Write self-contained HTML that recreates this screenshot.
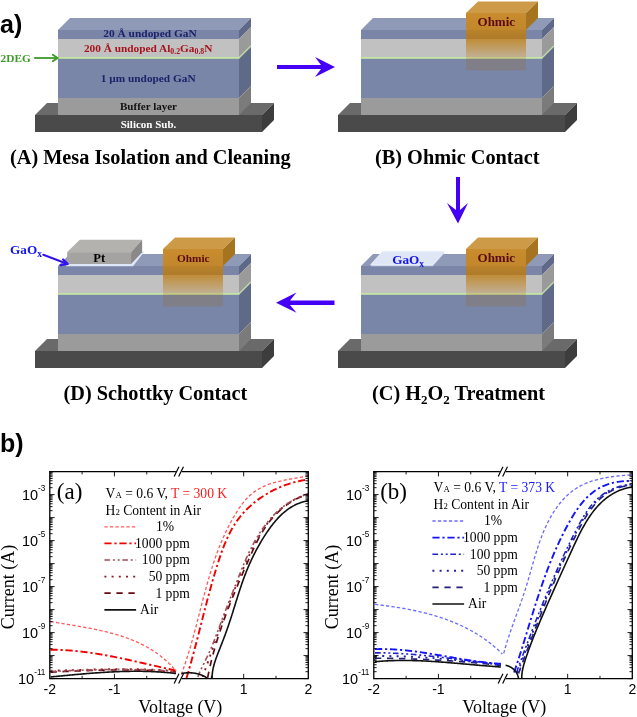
<!DOCTYPE html>
<html><head><meta charset="utf-8"><title>HEMT process and I-V</title>
<style>
html,body{margin:0;padding:0;background:#fff;}
body{width:637px;height:717px;overflow:hidden;position:relative;}
svg{position:absolute;left:0;top:0;}
</style></head><body>
<svg width="637" height="717" viewBox="0 0 637 717">
<rect width="637" height="717" fill="#fff"/>

<text x="0" y="33" font-family='"Liberation Sans", Arial, sans-serif' font-weight="bold" font-size="25" fill="#000">a)</text>
<polygon points="35,115 47,103 274,103 262,115" fill="#6a6a6a"/>
<polygon points="262,115 274,103 274,120 262,132" fill="#3d3d3d"/>
<rect x="35" y="115" width="227" height="17" fill="#4a4a4a"/>
<polygon points="58,30 70,18 251,18 239,30" fill="#8f9ab8"/>
<rect x="58" y="30" width="181" height="9" fill="#7a85a7"/>
<polygon points="239,30 251,18 251,27 239,39" fill="#5e6989"/>
<rect x="58" y="39" width="181" height="18.2" fill="#c1c1c1"/>
<polygon points="239,39 251,27 251,45.2 239,57.2" fill="#9a9a9a"/>
<rect x="58" y="57.2" width="181" height="1.6" fill="#b9e28f"/>
<polygon points="239,57.2 251,45.2 251,46.8 239,58.8" fill="#b9e28f"/>
<rect x="58" y="58.8" width="181" height="39.2" fill="#7a86a8"/>
<polygon points="239,58.8 251,46.8 251,86 239,98" fill="#5f6a89"/>
<rect x="58" y="98" width="181" height="17" fill="#9b9b9b"/>
<polygon points="239,98 251,86 251,103 239,115" fill="#7b7b7b"/>
<g font-family='"Liberation Serif", "Times New Roman", serif' font-weight="bold" font-size="11" text-anchor="middle">
<text x="150" y="37.1" fill="#1b236a" font-size="11.4">20 Å undoped GaN</text>
<text x="148.2" y="52" fill="#a8131d" font-size="11.3">200 Å undoped Al<tspan font-size="7.8" dy="2">0.2</tspan><tspan dy="-2">Ga</tspan><tspan font-size="7.8" dy="2">0.8</tspan><tspan dy="-2">N</tspan></text>
<text x="148.2" y="82.1" fill="#1b236a" font-size="11.3">1 µm undoped GaN</text>
<text x="148.5" y="110" fill="#111">Buffer layer</text>
<text x="148.5" y="127.6" fill="#fff">Silicon Sub.</text>
</g>
<text x="0.6" y="61.6" font-family='"Liberation Serif", "Times New Roman", serif' font-weight="bold" font-size="11.3" fill="#3d9a2a">2DEG</text>
<line x1="34.2" y1="58" x2="57" y2="58" stroke="#3d9a2a" stroke-width="1.8"/><polyline points="52.8,54.8 57.6,58 52.8,61.2" fill="none" stroke="#3d9a2a" stroke-width="1.8" stroke-linecap="round"/>
<polygon points="338,115 350,103 577,103 565,115" fill="#6a6a6a"/>
<polygon points="565,115 577,103 577,120 565,132" fill="#3d3d3d"/>
<rect x="338" y="115" width="227" height="17" fill="#4a4a4a"/>
<polygon points="361,30 373,18 554,18 542,30" fill="#8f9ab8"/>
<rect x="361" y="30" width="181" height="9" fill="#7a85a7"/>
<polygon points="542,30 554,18 554,27 542,39" fill="#5e6989"/>
<rect x="361" y="39" width="181" height="18.2" fill="#c1c1c1"/>
<polygon points="542,39 554,27 554,45.2 542,57.2" fill="#9a9a9a"/>
<rect x="361" y="57.2" width="181" height="1.6" fill="#b9e28f"/>
<polygon points="542,57.2 554,45.2 554,46.8 542,58.8" fill="#b9e28f"/>
<rect x="361" y="58.8" width="181" height="39.2" fill="#7a86a8"/>
<polygon points="542,58.8 554,46.8 554,86 542,98" fill="#5f6a89"/>
<rect x="361" y="98" width="181" height="17" fill="#9b9b9b"/>
<polygon points="542,98 554,86 554,103 542,115" fill="#7b7b7b"/>
<defs><linearGradient id="og0_0a" x1="0" y1="0" x2="0" y2="1">
<stop offset="0" stop-color="#c98c2e"/><stop offset="1" stop-color="#c2872c"/></linearGradient>
<linearGradient id="og0_0b" x1="0" y1="0" x2="0" y2="1">
<stop offset="0" stop-color="#b9822a"/><stop offset="1" stop-color="#ae7b2b"/></linearGradient>
<linearGradient id="og0_0c" x1="0" y1="0" x2="0" y2="1">
<stop offset="0" stop-color="#c08a32" stop-opacity="0.95"/><stop offset="1" stop-color="#c08a32" stop-opacity="0.32"/></linearGradient></defs>
<polygon points="466,13 478,1.5 538,1.5 526,13" fill="#cd9b47"/>
<polygon points="526,13 538,1.5 538,18 526,30" fill="#a6741f"/>
<rect x="466" y="13" width="60" height="17" fill="url(#og0_0a)"/>
<rect x="466" y="30" width="60" height="9" fill="url(#og0_0b)"/>
<rect x="466" y="39" width="60" height="18.2" fill="url(#og0_0c)"/>
<rect x="466" y="57.2" width="60" height="1.6" fill="#c08a32" fill-opacity="0.3"/>
<rect x="466" y="58.8" width="60" height="11.6" fill="#877860" fill-opacity="0.45"/>
<text x="496.3" y="26.4" font-family='"Liberation Serif", "Times New Roman", serif' font-weight="bold" font-size="13" fill="#5c0a12" text-anchor="middle">Ohmic</text>
<polygon points="338,351 350,339 577,339 565,351" fill="#6a6a6a"/>
<polygon points="565,351 577,339 577,356 565,368" fill="#3d3d3d"/>
<rect x="338" y="351" width="227" height="17" fill="#4a4a4a"/>
<polygon points="361,266 373,254 554,254 542,266" fill="#8f9ab8"/>
<rect x="361" y="266" width="181" height="9" fill="#7a85a7"/>
<polygon points="542,266 554,254 554,263 542,275" fill="#5e6989"/>
<rect x="361" y="275" width="181" height="18.2" fill="#c1c1c1"/>
<polygon points="542,275 554,263 554,281.2 542,293.2" fill="#9a9a9a"/>
<rect x="361" y="293.2" width="181" height="1.6" fill="#b9e28f"/>
<polygon points="542,293.2 554,281.2 554,282.8 542,294.8" fill="#b9e28f"/>
<rect x="361" y="294.8" width="181" height="39.2" fill="#7a86a8"/>
<polygon points="542,294.8 554,282.8 554,322 542,334" fill="#5f6a89"/>
<rect x="361" y="334" width="181" height="17" fill="#9b9b9b"/>
<polygon points="542,334 554,322 554,339 542,351" fill="#7b7b7b"/>
<defs><linearGradient id="og0_236a" x1="0" y1="0" x2="0" y2="1">
<stop offset="0" stop-color="#c98c2e"/><stop offset="1" stop-color="#c2872c"/></linearGradient>
<linearGradient id="og0_236b" x1="0" y1="0" x2="0" y2="1">
<stop offset="0" stop-color="#b9822a"/><stop offset="1" stop-color="#ae7b2b"/></linearGradient>
<linearGradient id="og0_236c" x1="0" y1="0" x2="0" y2="1">
<stop offset="0" stop-color="#c08a32" stop-opacity="0.95"/><stop offset="1" stop-color="#c08a32" stop-opacity="0.32"/></linearGradient></defs>
<polygon points="466,249 478,237.5 538,237.5 526,249" fill="#cd9b47"/>
<polygon points="526,249 538,237.5 538,254 526,266" fill="#a6741f"/>
<rect x="466" y="249" width="60" height="17" fill="url(#og0_236a)"/>
<rect x="466" y="266" width="60" height="9" fill="url(#og0_236b)"/>
<rect x="466" y="275" width="60" height="18.2" fill="url(#og0_236c)"/>
<rect x="466" y="293.2" width="60" height="1.6" fill="#c08a32" fill-opacity="0.3"/>
<rect x="466" y="294.8" width="60" height="11.6" fill="#877860" fill-opacity="0.45"/>
<text x="496.3" y="262.4" font-family='"Liberation Serif", "Times New Roman", serif' font-weight="bold" font-size="13" fill="#5c0a12" text-anchor="middle">Ohmic</text>
<polygon points="35,351 47,339 274,339 262,351" fill="#6a6a6a"/>
<polygon points="262,351 274,339 274,356 262,368" fill="#3d3d3d"/>
<rect x="35" y="351" width="227" height="17" fill="#4a4a4a"/>
<polygon points="58,266 70,254 251,254 239,266" fill="#8f9ab8"/>
<rect x="58" y="266" width="181" height="9" fill="#7a85a7"/>
<polygon points="239,266 251,254 251,263 239,275" fill="#5e6989"/>
<rect x="58" y="275" width="181" height="18.2" fill="#c1c1c1"/>
<polygon points="239,275 251,263 251,281.2 239,293.2" fill="#9a9a9a"/>
<rect x="58" y="293.2" width="181" height="1.6" fill="#b9e28f"/>
<polygon points="239,293.2 251,281.2 251,282.8 239,294.8" fill="#b9e28f"/>
<rect x="58" y="294.8" width="181" height="39.2" fill="#7a86a8"/>
<polygon points="239,294.8 251,282.8 251,322 239,334" fill="#5f6a89"/>
<rect x="58" y="334" width="181" height="17" fill="#9b9b9b"/>
<polygon points="239,334 251,322 251,339 239,351" fill="#7b7b7b"/>
<defs><linearGradient id="ogm303_236a" x1="0" y1="0" x2="0" y2="1">
<stop offset="0" stop-color="#c98c2e"/><stop offset="1" stop-color="#c2872c"/></linearGradient>
<linearGradient id="ogm303_236b" x1="0" y1="0" x2="0" y2="1">
<stop offset="0" stop-color="#b9822a"/><stop offset="1" stop-color="#ae7b2b"/></linearGradient>
<linearGradient id="ogm303_236c" x1="0" y1="0" x2="0" y2="1">
<stop offset="0" stop-color="#c08a32" stop-opacity="0.95"/><stop offset="1" stop-color="#c08a32" stop-opacity="0.32"/></linearGradient></defs>
<polygon points="163,249 175,237.5 235,237.5 223,249" fill="#cd9b47"/>
<polygon points="223,249 235,237.5 235,254 223,266" fill="#a6741f"/>
<rect x="163" y="249" width="60" height="17" fill="url(#ogm303_236a)"/>
<rect x="163" y="266" width="60" height="9" fill="url(#ogm303_236b)"/>
<rect x="163" y="275" width="60" height="18.2" fill="url(#ogm303_236c)"/>
<rect x="163" y="293.2" width="60" height="1.6" fill="#c08a32" fill-opacity="0.3"/>
<rect x="163" y="294.8" width="60" height="11.6" fill="#877860" fill-opacity="0.45"/>
<text x="193.3" y="262.4" font-family='"Liberation Serif", "Times New Roman", serif' font-weight="bold" font-size="11.3" fill="#5c0a12" text-anchor="middle">Ohmic</text>
<polygon points="370.6,266.3 382.6,252.8 444.7,252.8 432.7,266.3" fill="#c9d3e8"/>
<polygon points="370.6,264.8 382.6,251.3 444.7,251.3 432.7,264.8" fill="#dfe6f5" stroke="#eef2fb" stroke-width="0.8"/>
<text x="392.2" y="263.6" font-family='"Liberation Serif", "Times New Roman", serif' font-weight="bold" font-size="13.2" fill="#1414ee">GaO<tspan font-size="9.5" dy="3.3">x</tspan></text>
<polygon points="66,266.2 67,263.5 131.1,263.5 142.1,251.5 144.5,251.5 133,266.2" fill="#dde7f8"/>
<polygon points="67.2,252.1 79.8,239.8 142.1,239.8 131.1,252.1" fill="#b4b2af"/>
<polygon points="131.1,252.1 142.1,239.8 142.1,252.2 131.1,264" fill="#8b8987"/>
<rect x="67.2" y="252.1" width="63.9" height="11.9" fill="#a5a3a1"/>
<text x="99.2" y="262.3" font-family='"Liberation Serif", "Times New Roman", serif' font-weight="bold" font-size="12.6" fill="#000" text-anchor="middle">Pt</text>
<text x="10.1" y="254.1" font-family='"Liberation Serif", "Times New Roman", serif' font-weight="bold" font-size="13.2" fill="#1414ee">GaO<tspan font-size="9.5" dy="3.3">x</tspan></text>
<line x1="43.3" y1="254.7" x2="67" y2="263.8" stroke="#3311ee" stroke-width="2" stroke-linecap="round"/>
<polyline points="63.1,259.5 67.7,264 60.5,265.1" fill="none" stroke="#3311ee" stroke-width="2.2" stroke-linecap="round" stroke-linejoin="round"/>
<text x="10" y="163.5" font-family='"Liberation Serif", "Times New Roman", serif' font-weight="bold" font-size="20.3" fill="#000">(A) Mesa Isolation and Cleaning</text>
<text x="375" y="163.5" font-family='"Liberation Serif", "Times New Roman", serif' font-weight="bold" font-size="20.3" fill="#000">(B) Ohmic Contact</text>
<text x="63.5" y="400" font-family='"Liberation Serif", "Times New Roman", serif' font-weight="bold" font-size="20.3" fill="#000">(D) Schottky Contact</text>
<text x="372" y="400" font-family='"Liberation Serif", "Times New Roman", serif' font-weight="bold" font-size="20.3" fill="#000">(C) H<tspan font-size="13" dy="4">2</tspan><tspan dy="-4">O</tspan><tspan font-size="13" dy="4">2</tspan><tspan dy="-4"> Treatment</tspan></text>
<polygon points="277,65 321,65 315,57 335,67 315,77 321,69 277,69" fill="#4400f5"/>
<polygon points="456,177 460,177 460,210 468,203 458,223.5 447,203 456,210" fill="#4400f5"/>
<polygon points="334.5,300.5 290,300.5 296.5,292.5 276,302.7 296.5,312.7 290,305 334.5,305" fill="#4400f5"/>
<text x="0" y="452" font-family='"Liberation Sans", Arial, sans-serif' font-weight="bold" font-size="25" fill="#000">b)</text>
<path d="M50.52,676.94 L51.57,676.84 L52.62,676.74 L53.67,676.64 L54.72,676.54 L55.77,676.44 L56.82,676.34 L57.87,676.24 L58.92,676.14 L59.98,676.04 L61.03,675.94 L62.08,675.84 L63.13,675.74 L64.18,675.64 L65.23,675.54 L66.28,675.44 L67.34,675.34 L68.39,675.25 L69.44,675.15 L70.49,675.05 L71.54,674.95 L72.60,674.85 L73.65,674.76 L74.70,674.66 L75.76,674.57 L76.81,674.47 L77.86,674.38 L78.92,674.29 L79.97,674.19 L81.02,674.10 L82.08,674.01 L83.13,673.92 L84.18,673.83 L85.24,673.74 L86.29,673.65 L87.35,673.57 L88.40,673.48 L89.46,673.40 L90.51,673.31 L91.56,673.23 L92.62,673.15 L93.67,673.07 L94.73,672.99 L95.78,672.92 L96.84,672.84 L97.89,672.76 L98.95,672.69 L100.00,672.62 L101.06,672.55 L102.11,672.48 L103.17,672.41 L104.23,672.35 L105.28,672.28 L106.34,672.22 L107.39,672.16 L108.45,672.10 L109.50,672.04 L110.56,671.99 L111.62,671.93 L112.67,671.88 L113.73,671.83 L114.78,671.78 L115.84,671.74 L116.90,671.69 L117.95,671.65 L119.01,671.61 L120.06,671.57 L121.12,671.53 L122.18,671.50 L123.23,671.47 L124.29,671.44 L125.34,671.41 L126.40,671.39 L127.46,671.37 L128.51,671.35 L129.57,671.33 L130.63,671.31 L131.68,671.30 L132.74,671.29 L133.79,671.28 L134.85,671.28 L135.91,671.28 L136.96,671.28 L138.02,671.28 L139.08,671.29 L140.13,671.29 L141.19,671.31 L142.24,671.32 L143.30,671.34 L144.36,671.36 L145.41,671.38 L146.47,671.41 L147.52,671.44 L148.58,671.47 L149.64,671.50 L150.69,671.54 L151.75,671.58 L152.80,671.63 L153.86,671.68 L154.91,671.73 L155.97,671.78 L157.02,671.84 L158.08,671.90 L159.14,671.97 L160.19,672.04 L161.25,672.11 L162.30,672.19 L163.36,672.27 L164.41,672.35 L165.47,672.44 L166.52,672.53 L167.58,672.62 L168.63,672.72 L169.69,672.82 L170.74,672.92 L171.79,673.03 L172.85,673.15 L173.90,673.26 L174.96,673.39 L176.01,673.51" fill="none" stroke="#111" stroke-width="1.6" stroke-linejoin="round"/>
<path d="M50.50,672.16 L51.56,672.11 L52.61,672.06 L53.66,672.01 L54.72,671.96 L55.77,671.91 L56.82,671.86 L57.88,671.81 L58.93,671.76 L59.98,671.71 L61.04,671.67 L62.09,671.62 L63.14,671.57 L64.20,671.52 L65.25,671.47 L66.31,671.43 L67.36,671.38 L68.41,671.33 L69.47,671.29 L70.52,671.24 L71.58,671.20 L72.63,671.15 L73.69,671.11 L74.74,671.06 L75.80,671.02 L76.85,670.98 L77.91,670.93 L78.96,670.89 L80.02,670.85 L81.07,670.81 L82.13,670.77 L83.18,670.73 L84.24,670.69 L85.29,670.65 L86.35,670.62 L87.40,670.58 L88.46,670.54 L89.51,670.51 L90.57,670.47 L91.62,670.44 L92.68,670.41 L93.74,670.38 L94.79,670.35 L95.85,670.31 L96.90,670.29 L97.96,670.26 L99.01,670.23 L100.07,670.20 L101.13,670.18 L102.18,670.15 L103.24,670.13 L104.29,670.11 L105.35,670.08 L106.40,670.06 L107.46,670.04 L108.52,670.02 L109.57,670.01 L110.63,669.99 L111.68,669.98 L112.74,669.96 L113.79,669.95 L114.85,669.94 L115.91,669.93 L116.96,669.92 L118.02,669.91 L119.07,669.90 L120.13,669.90 L121.18,669.89 L122.24,669.89 L123.30,669.89 L124.35,669.89 L125.41,669.89 L126.46,669.89 L127.52,669.90 L128.57,669.90 L129.63,669.91 L130.68,669.92 L131.74,669.93 L132.79,669.94 L133.85,669.95 L134.91,669.96 L135.96,669.98 L137.02,670.00 L138.07,670.02 L139.13,670.04 L140.18,670.06 L141.24,670.08 L142.29,670.11 L143.35,670.14 L144.40,670.17 L145.46,670.20 L146.51,670.23 L147.56,670.26 L148.62,670.30 L149.67,670.34 L150.73,670.38 L151.78,670.42 L152.84,670.46 L153.89,670.51 L154.94,670.55 L156.00,670.60 L157.05,670.65 L158.11,670.71 L159.16,670.76 L160.21,670.82 L161.27,670.88 L162.32,670.94 L163.37,671.00 L164.43,671.06 L165.48,671.13 L166.53,671.20 L167.59,671.27 L168.64,671.34 L169.69,671.42 L170.74,671.50 L171.80,671.58 L172.85,671.66 L173.90,671.74 L174.95,671.83 L176.01,671.92" fill="none" stroke="#650a12" stroke-width="1.7" stroke-dasharray="6.3,5.7" stroke-linejoin="round"/>
<path d="M50.50,670.80 L51.56,670.76 L52.61,670.73 L53.66,670.70 L54.72,670.67 L55.77,670.64 L56.83,670.60 L57.88,670.57 L58.93,670.54 L59.99,670.51 L61.04,670.48 L62.10,670.44 L63.15,670.41 L64.21,670.38 L65.26,670.35 L66.32,670.31 L67.37,670.28 L68.42,670.25 L69.48,670.22 L70.53,670.19 L71.59,670.15 L72.64,670.12 L73.70,670.09 L74.75,670.06 L75.81,670.03 L76.86,670.00 L77.92,669.97 L78.97,669.94 L80.03,669.91 L81.08,669.88 L82.14,669.85 L83.19,669.82 L84.25,669.80 L85.30,669.77 L86.36,669.74 L87.41,669.71 L88.47,669.69 L89.52,669.66 L90.58,669.64 L91.63,669.61 L92.69,669.59 L93.74,669.56 L94.80,669.54 L95.85,669.52 L96.91,669.50 L97.96,669.48 L99.02,669.45 L100.08,669.43 L101.13,669.41 L102.19,669.40 L103.24,669.38 L104.30,669.36 L105.35,669.34 L106.41,669.33 L107.46,669.31 L108.52,669.30 L109.57,669.29 L110.63,669.28 L111.68,669.26 L112.74,669.25 L113.79,669.24 L114.85,669.23 L115.90,669.23 L116.96,669.22 L118.01,669.21 L119.07,669.21 L120.12,669.21 L121.18,669.20 L122.24,669.20 L123.29,669.20 L124.35,669.20 L125.40,669.20 L126.46,669.21 L127.51,669.21 L128.57,669.22 L129.62,669.22 L130.68,669.23 L131.73,669.24 L132.79,669.25 L133.84,669.26 L134.90,669.27 L135.95,669.29 L137.00,669.30 L138.06,669.32 L139.11,669.34 L140.17,669.35 L141.22,669.38 L142.28,669.40 L143.33,669.42 L144.39,669.45 L145.44,669.47 L146.50,669.50 L147.55,669.53 L148.61,669.56 L149.66,669.59 L150.71,669.63 L151.77,669.66 L152.82,669.70 L153.88,669.74 L154.93,669.78 L155.99,669.82 L157.04,669.87 L158.09,669.91 L159.15,669.96 L160.20,670.01 L161.26,670.06 L162.31,670.11 L163.36,670.17 L164.42,670.22 L165.47,670.28 L166.52,670.34 L167.58,670.40 L168.63,670.46 L169.68,670.53 L170.74,670.60 L171.79,670.67 L172.84,670.74 L173.90,670.81 L174.95,670.89 L176.00,670.96" fill="none" stroke="#8b1a22" stroke-width="1.9" stroke-dasharray="2,5.2" stroke-linejoin="round"/>
<path d="M50.50,671.38 L51.56,671.34 L52.61,671.30 L53.66,671.25 L54.72,671.21 L55.77,671.17 L56.82,671.13 L57.88,671.09 L58.93,671.05 L59.99,671.01 L61.04,670.96 L62.09,670.92 L63.15,670.88 L64.20,670.84 L65.26,670.80 L66.31,670.76 L67.37,670.72 L68.42,670.68 L69.47,670.64 L70.53,670.60 L71.58,670.56 L72.64,670.52 L73.69,670.48 L74.75,670.44 L75.80,670.40 L76.86,670.37 L77.91,670.33 L78.97,670.29 L80.02,670.25 L81.08,670.22 L82.13,670.18 L83.19,670.15 L84.24,670.11 L85.30,670.08 L86.35,670.05 L87.41,670.01 L88.47,669.98 L89.52,669.95 L90.58,669.92 L91.63,669.89 L92.69,669.86 L93.74,669.83 L94.80,669.80 L95.85,669.77 L96.91,669.74 L97.97,669.72 L99.02,669.69 L100.08,669.67 L101.13,669.64 L102.19,669.62 L103.24,669.60 L104.30,669.58 L105.35,669.56 L106.41,669.54 L107.47,669.52 L108.52,669.51 L109.58,669.49 L110.63,669.47 L111.69,669.46 L112.74,669.45 L113.80,669.44 L114.86,669.42 L115.91,669.41 L116.97,669.41 L118.02,669.40 L119.08,669.39 L120.13,669.39 L121.19,669.38 L122.24,669.38 L123.30,669.38 L124.36,669.38 L125.41,669.38 L126.47,669.39 L127.52,669.39 L128.58,669.40 L129.63,669.40 L130.69,669.41 L131.74,669.42 L132.80,669.43 L133.85,669.45 L134.91,669.46 L135.96,669.48 L137.02,669.49 L138.07,669.51 L139.13,669.53 L140.18,669.56 L141.24,669.58 L142.29,669.61 L143.35,669.63 L144.40,669.66 L145.46,669.69 L146.51,669.73 L147.57,669.76 L148.62,669.80 L149.67,669.83 L150.73,669.87 L151.78,669.91 L152.84,669.96 L153.89,670.00 L154.95,670.05 L156.00,670.10 L157.05,670.15 L158.11,670.20 L159.16,670.26 L160.21,670.31 L161.27,670.37 L162.32,670.43 L163.37,670.50 L164.43,670.56 L165.48,670.63 L166.53,670.70 L167.59,670.77 L168.64,670.84 L169.69,670.92 L170.74,671.00 L171.80,671.08 L172.85,671.16 L173.90,671.24 L174.95,671.33 L176.01,671.42" fill="none" stroke="#a0505a" stroke-width="1.6" stroke-dasharray="5.7,2.8,2,2.8,2,2.6" stroke-linejoin="round"/>
<path d="M50.52,649.75 L51.59,649.75 L52.67,649.75 L53.74,649.76 L54.81,649.78 L55.88,649.80 L56.95,649.82 L58.02,649.85 L59.09,649.89 L60.16,649.93 L61.23,649.97 L62.29,650.02 L63.36,650.07 L64.43,650.13 L65.50,650.19 L66.56,650.26 L67.63,650.33 L68.70,650.40 L69.76,650.48 L70.83,650.56 L71.89,650.65 L72.96,650.74 L74.02,650.84 L75.09,650.94 L76.15,651.04 L77.21,651.15 L78.28,651.26 L79.34,651.37 L80.40,651.49 L81.47,651.61 L82.53,651.74 L83.59,651.87 L84.65,652.00 L85.71,652.14 L86.77,652.28 L87.83,652.42 L88.89,652.56 L89.95,652.71 L91.01,652.87 L92.07,653.02 L93.13,653.18 L94.19,653.34 L95.25,653.51 L96.30,653.67 L97.36,653.84 L98.42,654.02 L99.48,654.19 L100.53,654.37 L101.59,654.55 L102.65,654.73 L103.70,654.92 L104.76,655.11 L105.81,655.30 L106.87,655.49 L107.92,655.69 L108.98,655.88 L110.03,656.08 L111.09,656.28 L112.14,656.49 L113.19,656.69 L114.25,656.90 L115.30,657.11 L116.35,657.32 L117.40,657.53 L118.46,657.75 L119.51,657.96 L120.56,658.18 L121.61,658.40 L122.66,658.62 L123.71,658.85 L124.77,659.07 L125.82,659.30 L126.87,659.52 L127.92,659.75 L128.97,659.98 L130.02,660.21 L131.07,660.44 L132.11,660.67 L133.16,660.90 L134.21,661.14 L135.26,661.37 L136.31,661.61 L137.36,661.85 L138.41,662.08 L139.45,662.32 L140.50,662.56 L141.55,662.80 L142.60,663.04 L143.64,663.28 L144.69,663.52 L145.74,663.76 L146.78,664.00 L147.83,664.24 L148.87,664.48 L149.92,664.72 L150.97,664.96 L152.01,665.20 L153.06,665.44 L154.10,665.68 L155.15,665.92 L156.19,666.16 L157.24,666.40 L158.28,666.64 L159.32,666.88 L160.37,667.12 L161.41,667.36 L162.46,667.59 L163.50,667.83 L164.54,668.07 L165.59,668.30 L166.63,668.54 L167.67,668.77 L168.72,669.00 L169.76,669.24 L170.80,669.47 L171.84,669.70 L172.89,669.93 L173.93,670.15 L174.97,670.38 L176.01,670.60" fill="none" stroke="#f00000" stroke-width="1.9" stroke-dasharray="7.2,2.8,2.2,2.8" stroke-linejoin="round"/>
<path d="M50.59,621.55 L51.71,621.75 L52.82,621.94 L53.94,622.13 L55.06,622.32 L56.18,622.51 L57.30,622.69 L58.43,622.88 L59.56,623.07 L60.69,623.25 L61.82,623.44 L62.95,623.63 L64.09,623.81 L65.22,624.00 L66.36,624.18 L67.50,624.37 L68.64,624.56 L69.79,624.75 L70.93,624.93 L72.08,625.12 L73.22,625.31 L74.37,625.51 L75.52,625.70 L76.66,625.89 L77.81,626.09 L78.96,626.29 L80.11,626.49 L81.26,626.69 L82.41,626.89 L83.56,627.10 L84.71,627.30 L85.86,627.51 L87.01,627.73 L88.16,627.94 L89.31,628.16 L90.46,628.38 L91.61,628.61 L92.76,628.84 L93.91,629.07 L95.06,629.30 L96.20,629.54 L97.35,629.78 L98.49,630.03 L99.63,630.28 L100.77,630.54 L101.91,630.79 L103.05,631.06 L104.19,631.33 L105.33,631.60 L106.46,631.88 L107.59,632.16 L108.72,632.45 L109.85,632.74 L110.98,633.04 L112.10,633.34 L113.22,633.65 L114.34,633.96 L115.46,634.28 L116.57,634.61 L117.69,634.94 L118.80,635.28 L119.90,635.63 L121.01,635.98 L122.11,636.34 L123.20,636.71 L124.30,637.08 L125.39,637.46 L126.48,637.85 L127.56,638.24 L128.64,638.64 L129.72,639.05 L130.79,639.47 L131.86,639.89 L132.93,640.32 L133.99,640.77 L135.04,641.21 L136.10,641.67 L137.15,642.14 L138.19,642.61 L139.23,643.10 L140.27,643.59 L141.30,644.09 L142.32,644.60 L143.34,645.12 L144.36,645.65 L145.37,646.19 L146.38,646.74 L147.38,647.29 L148.37,647.86 L149.36,648.44 L150.35,649.03 L151.33,649.63 L152.30,650.24 L153.27,650.86 L154.23,651.49 L155.18,652.13 L156.13,652.78 L157.08,653.44 L158.01,654.12 L158.95,654.81 L159.87,655.50 L160.79,656.21 L161.70,656.93 L162.60,657.67 L163.50,658.41 L164.39,659.17 L165.28,659.94 L166.15,660.72 L167.02,661.51 L167.89,662.32 L168.74,663.14 L169.59,663.97 L170.43,664.82 L171.26,665.68 L172.09,666.55 L172.90,667.44 L173.71,668.34 L174.52,669.25 L175.31,670.18 L176.09,671.12" fill="none" stroke="#ff5a5a" stroke-width="1.3" stroke-dasharray="3.3,2.2" stroke-linejoin="round"/>
<path d="M212.09,678.55 L212.10,676.79 L212.18,675.04 L212.34,673.30 L212.56,671.58 L212.84,669.86 L213.19,668.16 L213.58,666.47 L214.02,664.78 L214.50,663.10 L215.02,661.43 L215.58,659.76 L216.16,658.10 L216.77,656.44 L217.39,654.79 L218.03,653.14 L218.68,651.49 L219.33,649.84 L219.99,648.19 L220.64,646.54 L221.28,644.89 L221.92,643.24 L222.56,641.58 L223.19,639.93 L223.82,638.27 L224.44,636.61 L225.06,634.95 L225.67,633.29 L226.27,631.63 L226.87,629.96 L227.46,628.29 L228.04,626.62 L228.62,624.95 L229.19,623.28 L229.75,621.60 L230.30,619.92 L230.85,618.24 L231.40,616.55 L231.93,614.87 L232.47,613.18 L233.00,611.49 L233.53,609.80 L234.05,608.11 L234.58,606.42 L235.10,604.73 L235.62,603.04 L236.15,601.35 L236.67,599.67 L237.20,597.98 L237.73,596.29 L238.26,594.61 L238.80,592.92 L239.34,591.24 L239.89,589.56 L240.44,587.89 L241.00,586.21 L241.57,584.54 L242.14,582.87 L242.73,581.21 L243.32,579.55 L243.93,577.89 L244.54,576.24 L245.17,574.59 L245.81,572.95 L246.46,571.31 L247.12,569.67 L247.80,568.04 L248.48,566.42 L249.18,564.80 L249.90,563.19 L250.62,561.58 L251.36,559.98 L252.12,558.38 L252.88,556.79 L253.66,555.20 L254.46,553.62 L255.26,552.05 L256.08,550.48 L256.92,548.92 L257.76,547.37 L258.63,545.82 L259.50,544.28 L260.39,542.74 L261.30,541.21 L262.21,539.69 L263.15,538.17 L264.10,536.66 L265.06,535.16 L266.04,533.67 L267.03,532.18 L268.04,530.70 L269.07,529.24 L270.11,527.78 L271.17,526.35 L272.25,524.93 L273.35,523.53 L274.48,522.15 L275.62,520.79 L276.79,519.46 L277.98,518.15 L279.20,516.88 L280.44,515.63 L281.70,514.42 L283.00,513.25 L284.32,512.11 L285.67,511.01 L287.05,509.95 L288.47,508.93 L289.91,507.96 L291.39,507.04 L292.89,506.16 L294.44,505.34 L296.01,504.57 L297.63,503.85 L299.28,503.19 L300.97,502.59 L302.69,502.05 L304.46,501.57 L306.26,501.16 L308.11,500.82" fill="none" stroke="#111" stroke-width="1.6" stroke-linejoin="round"/>
<path d="M207.61,677.90 L207.96,676.11 L208.32,674.33 L208.69,672.54 L209.07,670.76 L209.46,668.98 L209.86,667.21 L210.27,665.43 L210.68,663.66 L211.11,661.89 L211.55,660.13 L212.00,658.36 L212.45,656.60 L212.92,654.84 L213.39,653.09 L213.88,651.33 L214.37,649.58 L214.87,647.83 L215.37,646.08 L215.89,644.34 L216.41,642.59 L216.94,640.85 L217.48,639.12 L218.03,637.38 L218.58,635.64 L219.14,633.91 L219.71,632.18 L220.28,630.45 L220.87,628.73 L221.45,627.00 L222.05,625.28 L222.65,623.56 L223.26,621.84 L223.87,620.13 L224.49,618.41 L225.12,616.70 L225.75,614.99 L226.38,613.28 L227.02,611.57 L227.67,609.86 L228.32,608.16 L228.98,606.46 L229.64,604.76 L230.31,603.06 L230.98,601.36 L231.65,599.66 L232.33,597.97 L233.02,596.27 L233.71,594.58 L234.40,592.89 L235.09,591.20 L235.79,589.51 L236.49,587.83 L237.20,586.14 L237.91,584.46 L238.62,582.78 L239.33,581.10 L240.05,579.42 L240.77,577.74 L241.49,576.06 L242.22,574.38 L242.94,572.71 L243.67,571.03 L244.40,569.36 L245.14,567.69 L245.87,566.02 L246.61,564.35 L247.34,562.68 L248.08,561.01 L248.82,559.34 L249.56,557.67 L250.30,556.01 L251.04,554.34 L251.78,552.68 L252.53,551.02 L253.29,549.36 L254.05,547.71 L254.82,546.07 L255.61,544.43 L256.41,542.79 L257.22,541.17 L258.05,539.56 L258.90,537.95 L259.77,536.36 L260.66,534.77 L261.58,533.21 L262.51,531.65 L263.47,530.11 L264.46,528.58 L265.47,527.07 L266.50,525.58 L267.56,524.11 L268.65,522.65 L269.76,521.22 L270.90,519.81 L272.07,518.41 L273.27,517.05 L274.49,515.70 L275.75,514.38 L277.03,513.08 L278.34,511.82 L279.68,510.58 L281.04,509.37 L282.43,508.19 L283.85,507.03 L285.30,505.92 L286.77,504.83 L288.26,503.78 L289.78,502.76 L291.33,501.78 L292.90,500.84 L294.49,499.94 L296.11,499.07 L297.76,498.25 L299.42,497.46 L301.11,496.72 L302.82,496.02 L304.56,495.37 L306.32,494.76 L308.10,494.19" fill="none" stroke="#650a12" stroke-width="1.7" stroke-dasharray="6.3,5.7" stroke-linejoin="round"/>
<path d="M202.61,676.88 L203.23,675.15 L203.85,673.42 L204.47,671.70 L205.09,669.97 L205.70,668.25 L206.32,666.52 L206.93,664.79 L207.55,663.07 L208.16,661.34 L208.77,659.61 L209.39,657.88 L210.00,656.16 L210.61,654.43 L211.22,652.70 L211.83,650.98 L212.44,649.25 L213.05,647.53 L213.67,645.80 L214.28,644.08 L214.89,642.35 L215.50,640.63 L216.12,638.90 L216.73,637.18 L217.34,635.45 L217.96,633.73 L218.58,632.01 L219.20,630.29 L219.81,628.56 L220.44,626.84 L221.06,625.12 L221.68,623.40 L222.31,621.68 L222.93,619.97 L223.56,618.25 L224.20,616.53 L224.83,614.82 L225.46,613.10 L226.10,611.39 L226.74,609.67 L227.39,607.96 L228.03,606.25 L228.68,604.54 L229.33,602.83 L229.99,601.12 L230.64,599.41 L231.30,597.71 L231.97,596.00 L232.64,594.30 L233.31,592.60 L233.98,590.89 L234.66,589.19 L235.34,587.49 L236.03,585.80 L236.72,584.10 L237.41,582.41 L238.11,580.71 L238.81,579.02 L239.52,577.33 L240.23,575.64 L240.95,573.95 L241.67,572.27 L242.40,570.58 L243.13,568.90 L243.87,567.22 L244.61,565.54 L245.35,563.86 L246.11,562.19 L246.86,560.51 L247.63,558.84 L248.40,557.17 L249.17,555.50 L249.95,553.84 L250.74,552.17 L251.54,550.51 L252.35,548.86 L253.16,547.21 L253.99,545.57 L254.82,543.93 L255.67,542.31 L256.54,540.69 L257.42,539.08 L258.31,537.48 L259.22,535.89 L260.14,534.32 L261.09,532.76 L262.05,531.21 L263.03,529.68 L264.03,528.16 L265.06,526.66 L266.10,525.18 L267.17,523.72 L268.27,522.27 L269.39,520.85 L270.53,519.45 L271.70,518.06 L272.90,516.70 L274.13,515.37 L275.38,514.06 L276.67,512.77 L277.98,511.51 L279.31,510.28 L280.68,509.08 L282.07,507.91 L283.50,506.77 L284.95,505.66 L286.42,504.58 L287.93,503.54 L289.47,502.53 L291.03,501.56 L292.62,500.63 L294.24,499.73 L295.89,498.88 L297.57,498.07 L299.27,497.29 L301.01,496.56 L302.77,495.87 L304.56,495.23 L306.38,494.64 L308.23,494.09" fill="none" stroke="#8b1a22" stroke-width="1.9" stroke-dasharray="2,5.2" stroke-linejoin="round"/>
<path d="M197.87,676.95 L198.51,675.21 L199.20,673.48 L199.93,671.77 L200.68,670.08 L201.46,668.39 L202.26,666.72 L203.07,665.05 L203.89,663.39 L204.72,661.73 L205.55,660.07 L206.37,658.41 L207.18,656.75 L207.98,655.08 L208.76,653.40 L209.52,651.72 L210.27,650.03 L211.01,648.34 L211.73,646.64 L212.44,644.93 L213.14,643.23 L213.83,641.51 L214.51,639.80 L215.18,638.08 L215.84,636.35 L216.50,634.63 L217.16,632.90 L217.80,631.17 L218.45,629.44 L219.09,627.70 L219.73,625.97 L220.38,624.23 L221.02,622.49 L221.66,620.76 L222.30,619.02 L222.95,617.28 L223.61,615.55 L224.26,613.81 L224.92,612.07 L225.59,610.34 L226.25,608.61 L226.92,606.87 L227.59,605.14 L228.27,603.41 L228.94,601.68 L229.62,599.95 L230.30,598.22 L230.98,596.50 L231.66,594.77 L232.34,593.05 L233.02,591.32 L233.70,589.60 L234.38,587.88 L235.06,586.16 L235.73,584.44 L236.41,582.73 L237.08,581.01 L237.75,579.30 L238.42,577.59 L239.09,575.87 L239.77,574.17 L240.44,572.46 L241.12,570.75 L241.80,569.05 L242.49,567.35 L243.19,565.65 L243.89,563.95 L244.60,562.26 L245.33,560.56 L246.07,558.87 L246.82,557.18 L247.58,555.50 L248.36,553.81 L249.15,552.13 L249.97,550.45 L250.79,548.78 L251.64,547.12 L252.50,545.46 L253.38,543.81 L254.27,542.17 L255.18,540.53 L256.12,538.91 L257.07,537.30 L258.04,535.70 L259.02,534.12 L260.03,532.54 L261.06,530.99 L262.11,529.45 L263.17,527.92 L264.26,526.42 L265.37,524.93 L266.50,523.46 L267.66,522.01 L268.83,520.59 L270.03,519.18 L271.25,517.80 L272.49,516.44 L273.76,515.11 L275.05,513.80 L276.36,512.52 L277.70,511.27 L279.06,510.04 L280.45,508.85 L281.86,507.68 L283.30,506.55 L284.76,505.44 L286.25,504.38 L287.76,503.34 L289.31,502.34 L290.87,501.37 L292.47,500.44 L294.10,499.55 L295.75,498.70 L297.43,497.89 L299.14,497.11 L300.88,496.38 L302.64,495.69 L304.44,495.04 L306.27,494.43 L308.12,493.87" fill="none" stroke="#a0505a" stroke-width="1.6" stroke-dasharray="5.7,2.8,2,2.8,2,2.6" stroke-linejoin="round"/>
<path d="M186.53,677.97 L187.14,675.95 L187.74,673.93 L188.33,671.91 L188.92,669.89 L189.50,667.87 L190.07,665.84 L190.64,663.82 L191.21,661.79 L191.77,659.76 L192.32,657.74 L192.88,655.71 L193.42,653.68 L193.97,651.65 L194.51,649.62 L195.04,647.59 L195.57,645.56 L196.11,643.53 L196.63,641.50 L197.16,639.47 L197.68,637.44 L198.21,635.41 L198.73,633.37 L199.25,631.34 L199.77,629.31 L200.28,627.28 L200.80,625.24 L201.32,623.21 L201.84,621.18 L202.36,619.14 L202.88,617.11 L203.40,615.08 L203.92,613.05 L204.44,611.01 L204.97,608.98 L205.49,606.95 L206.02,604.92 L206.56,602.89 L207.09,600.85 L207.63,598.82 L208.17,596.79 L208.72,594.76 L209.27,592.73 L209.82,590.71 L210.38,588.68 L210.94,586.65 L211.51,584.62 L212.08,582.59 L212.66,580.57 L213.25,578.54 L213.84,576.52 L214.44,574.50 L215.04,572.47 L215.65,570.45 L216.27,568.43 L216.90,566.41 L217.53,564.39 L218.17,562.37 L218.82,560.36 L219.49,558.34 L220.16,556.33 L220.85,554.33 L221.55,552.34 L222.27,550.35 L223.01,548.37 L223.76,546.40 L224.54,544.44 L225.34,542.49 L226.17,540.56 L227.02,538.65 L227.89,536.75 L228.80,534.86 L229.74,533.00 L230.70,531.16 L231.70,529.33 L232.74,527.53 L233.80,525.75 L234.91,524.00 L236.06,522.27 L237.24,520.57 L238.47,518.90 L239.74,517.25 L241.05,515.64 L242.39,514.05 L243.78,512.49 L245.20,510.97 L246.65,509.47 L248.14,508.00 L249.67,506.57 L251.23,505.17 L252.81,503.79 L254.43,502.46 L256.08,501.15 L257.76,499.88 L259.46,498.64 L261.19,497.43 L262.95,496.26 L264.73,495.12 L266.53,494.01 L268.36,492.95 L270.21,491.91 L272.08,490.92 L273.96,489.96 L275.87,489.03 L277.79,488.15 L279.73,487.30 L281.68,486.49 L283.64,485.71 L285.62,484.98 L287.62,484.28 L289.62,483.63 L291.63,483.01 L293.65,482.43 L295.68,481.90 L297.72,481.40 L299.76,480.95 L301.80,480.53 L303.85,480.16 L305.90,479.83 L307.96,479.55" fill="none" stroke="#f00000" stroke-width="1.9" stroke-dasharray="7.2,2.8,2.2,2.8" stroke-linejoin="round"/>
<path d="M181.24,674.56 L181.98,672.58 L182.71,670.59 L183.43,668.60 L184.13,666.60 L184.82,664.60 L185.50,662.58 L186.17,660.56 L186.83,658.54 L187.47,656.51 L188.11,654.47 L188.74,652.43 L189.35,650.38 L189.96,648.33 L190.57,646.28 L191.16,644.22 L191.75,642.15 L192.33,640.08 L192.90,638.01 L193.47,635.94 L194.03,633.86 L194.59,631.78 L195.15,629.69 L195.70,627.60 L196.25,625.51 L196.79,623.42 L197.33,621.33 L197.88,619.24 L198.41,617.14 L198.95,615.04 L199.49,612.95 L200.03,610.85 L200.57,608.75 L201.11,606.65 L201.65,604.55 L202.19,602.45 L202.74,600.36 L203.29,598.26 L203.84,596.17 L204.40,594.07 L204.96,591.98 L205.53,589.89 L206.10,587.80 L206.67,585.71 L207.26,583.63 L207.85,581.55 L208.45,579.47 L209.05,577.40 L209.66,575.33 L210.29,573.26 L210.92,571.20 L211.56,569.14 L212.21,567.08 L212.87,565.03 L213.55,562.99 L214.23,560.95 L214.93,558.91 L215.64,556.88 L216.36,554.86 L217.10,552.84 L217.85,550.83 L218.61,548.83 L219.39,546.83 L220.18,544.84 L220.99,542.86 L221.82,540.89 L222.67,538.92 L223.53,536.96 L224.41,535.01 L225.30,533.07 L226.22,531.13 L227.15,529.21 L228.11,527.29 L229.09,525.39 L230.08,523.49 L231.10,521.61 L232.14,519.73 L233.20,517.86 L234.28,516.01 L235.39,514.17 L236.52,512.33 L237.67,510.51 L238.86,508.71 L240.07,506.93 L241.32,505.17 L242.60,503.45 L243.92,501.77 L245.29,500.14 L246.71,498.56 L248.18,497.03 L249.70,495.57 L251.28,494.18 L252.92,492.86 L254.62,491.61 L256.37,490.43 L258.17,489.32 L260.02,488.28 L261.92,487.30 L263.85,486.38 L265.82,485.52 L267.83,484.72 L269.87,483.98 L271.94,483.29 L274.03,482.66 L276.14,482.06 L278.27,481.52 L280.41,481.01 L282.56,480.53 L284.72,480.08 L286.89,479.66 L289.05,479.26 L291.20,478.88 L293.35,478.51 L295.49,478.15 L297.61,477.80 L299.72,477.44 L301.80,477.09 L303.86,476.72 L305.88,476.35 L307.88,475.95" fill="none" stroke="#ff5a5a" stroke-width="1.3" stroke-dasharray="3.3,2.2" stroke-linejoin="round"/>
<path d="M181.50,673.50 L181.72,673.46 L181.93,673.42 L182.15,673.38 L182.37,673.35 L182.59,673.31 L182.81,673.28 L183.03,673.24 L183.25,673.21 L183.47,673.18 L183.69,673.15 L183.91,673.12 L184.13,673.09 L184.35,673.07 L184.57,673.04 L184.79,673.02 L185.02,672.99 L185.24,672.97 L185.46,672.95 L185.68,672.93 L185.91,672.91 L186.13,672.90 L186.35,672.88 L186.57,672.87 L186.80,672.85 L187.02,672.84 L187.24,672.83 L187.47,672.82 L187.69,672.81 L187.92,672.80 L188.14,672.80 L188.36,672.79 L188.59,672.79 L188.81,672.79 L189.04,672.79 L189.26,672.79 L189.48,672.79 L189.71,672.79 L189.93,672.80 L190.16,672.80 L190.38,672.81 L190.60,672.82 L190.83,672.83 L191.05,672.84 L191.28,672.85 L191.50,672.87 L191.72,672.88 L191.95,672.90 L192.17,672.92 L192.39,672.94 L192.62,672.96 L192.84,672.98 L193.06,673.00 L193.28,673.03 L193.51,673.05 L193.73,673.08 L193.95,673.11 L194.17,673.14 L194.39,673.17 L194.62,673.20 L194.84,673.24 L195.06,673.27 L195.28,673.31 L195.50,673.35 L195.72,673.39 L195.94,673.43 L196.16,673.48 L196.37,673.52 L196.59,673.57 L196.81,673.61 L197.03,673.66 L197.25,673.71 L197.46,673.77 L197.68,673.82 L197.90,673.88 L198.11,673.93 L198.33,673.99 L198.54,674.05 L198.76,674.11 L198.97,674.17 L199.18,674.24 L199.40,674.30 L199.61,674.37 L199.82,674.44 L200.03,674.51 L200.24,674.58 L200.45,674.66 L200.66,674.73 L200.87,674.81 L201.08,674.89 L201.29,674.97 L201.49,675.05 L201.70,675.13 L201.91,675.22 L202.11,675.30 L202.32,675.39 L202.52,675.48 L202.72,675.57 L202.93,675.66 L203.13,675.76 L203.33,675.85 L203.53,675.95 L203.73,676.05 L203.93,676.15 L204.13,676.25 L204.32,676.36 L204.52,676.47 L204.72,676.57 L204.91,676.68 L205.11,676.79 L205.30,676.91 L205.49,677.02 L205.68,677.14 L205.87,677.26 L206.06,677.38 L206.25,677.50 L206.44,677.62 L206.63,677.74 L206.81,677.87 L207.00,678.00" fill="none" stroke="#111" stroke-width="1.6" stroke-linejoin="round"/>
<line x1="49.8" y1="471.6" x2="49.8" y2="678.6" stroke="#000" stroke-width="1.3"/>
<line x1="308.3" y1="471.6" x2="308.3" y2="678.6" stroke="#000" stroke-width="1.3"/>
<line x1="49.15" y1="471.6" x2="175.85000000000002" y2="471.6" stroke="#000" stroke-width="1.3"/>
<line x1="181.75" y1="471.6" x2="308.95" y2="471.6" stroke="#000" stroke-width="1.3"/>
<line x1="174.15" y1="476.40000000000003" x2="178.95000000000002" y2="466.8" stroke="#000" stroke-width="1.2"/>
<line x1="178.65" y1="476.40000000000003" x2="183.45000000000002" y2="466.8" stroke="#000" stroke-width="1.2"/>
<line x1="49.15" y1="678.6" x2="175.85000000000002" y2="678.6" stroke="#000" stroke-width="1.3"/>
<line x1="181.75" y1="678.6" x2="308.95" y2="678.6" stroke="#000" stroke-width="1.3"/>
<line x1="174.15" y1="683.4" x2="178.95000000000002" y2="673.8000000000001" stroke="#000" stroke-width="1.2"/>
<line x1="178.65" y1="683.4" x2="183.45000000000002" y2="673.8000000000001" stroke="#000" stroke-width="1.2"/>
<line x1="49.8" y1="678.60" x2="54.599999999999994" y2="678.60" stroke="#000" stroke-width="0.9"/>
<line x1="308.3" y1="678.60" x2="303.5" y2="678.60" stroke="#000" stroke-width="0.9"/>
<line x1="49.8" y1="671.68" x2="52.599999999999994" y2="671.68" stroke="#000" stroke-width="0.9"/>
<line x1="308.3" y1="671.68" x2="305.5" y2="671.68" stroke="#000" stroke-width="0.9"/>
<line x1="49.8" y1="667.63" x2="52.599999999999994" y2="667.63" stroke="#000" stroke-width="0.9"/>
<line x1="308.3" y1="667.63" x2="305.5" y2="667.63" stroke="#000" stroke-width="0.9"/>
<line x1="49.8" y1="664.75" x2="52.599999999999994" y2="664.75" stroke="#000" stroke-width="0.9"/>
<line x1="308.3" y1="664.75" x2="305.5" y2="664.75" stroke="#000" stroke-width="0.9"/>
<line x1="49.8" y1="662.52" x2="52.599999999999994" y2="662.52" stroke="#000" stroke-width="0.9"/>
<line x1="308.3" y1="662.52" x2="305.5" y2="662.52" stroke="#000" stroke-width="0.9"/>
<line x1="49.8" y1="660.70" x2="52.599999999999994" y2="660.70" stroke="#000" stroke-width="0.9"/>
<line x1="308.3" y1="660.70" x2="305.5" y2="660.70" stroke="#000" stroke-width="0.9"/>
<line x1="49.8" y1="659.16" x2="52.599999999999994" y2="659.16" stroke="#000" stroke-width="0.9"/>
<line x1="308.3" y1="659.16" x2="305.5" y2="659.16" stroke="#000" stroke-width="0.9"/>
<line x1="49.8" y1="657.83" x2="52.599999999999994" y2="657.83" stroke="#000" stroke-width="0.9"/>
<line x1="308.3" y1="657.83" x2="305.5" y2="657.83" stroke="#000" stroke-width="0.9"/>
<line x1="49.8" y1="656.65" x2="52.599999999999994" y2="656.65" stroke="#000" stroke-width="0.9"/>
<line x1="308.3" y1="656.65" x2="305.5" y2="656.65" stroke="#000" stroke-width="0.9"/>
<line x1="49.8" y1="655.60" x2="54.599999999999994" y2="655.60" stroke="#000" stroke-width="0.9"/>
<line x1="308.3" y1="655.60" x2="303.5" y2="655.60" stroke="#000" stroke-width="0.9"/>
<line x1="49.8" y1="648.68" x2="52.599999999999994" y2="648.68" stroke="#000" stroke-width="0.9"/>
<line x1="308.3" y1="648.68" x2="305.5" y2="648.68" stroke="#000" stroke-width="0.9"/>
<line x1="49.8" y1="644.63" x2="52.599999999999994" y2="644.63" stroke="#000" stroke-width="0.9"/>
<line x1="308.3" y1="644.63" x2="305.5" y2="644.63" stroke="#000" stroke-width="0.9"/>
<line x1="49.8" y1="641.75" x2="52.599999999999994" y2="641.75" stroke="#000" stroke-width="0.9"/>
<line x1="308.3" y1="641.75" x2="305.5" y2="641.75" stroke="#000" stroke-width="0.9"/>
<line x1="49.8" y1="639.52" x2="52.599999999999994" y2="639.52" stroke="#000" stroke-width="0.9"/>
<line x1="308.3" y1="639.52" x2="305.5" y2="639.52" stroke="#000" stroke-width="0.9"/>
<line x1="49.8" y1="637.70" x2="52.599999999999994" y2="637.70" stroke="#000" stroke-width="0.9"/>
<line x1="308.3" y1="637.70" x2="305.5" y2="637.70" stroke="#000" stroke-width="0.9"/>
<line x1="49.8" y1="636.16" x2="52.599999999999994" y2="636.16" stroke="#000" stroke-width="0.9"/>
<line x1="308.3" y1="636.16" x2="305.5" y2="636.16" stroke="#000" stroke-width="0.9"/>
<line x1="49.8" y1="634.83" x2="52.599999999999994" y2="634.83" stroke="#000" stroke-width="0.9"/>
<line x1="308.3" y1="634.83" x2="305.5" y2="634.83" stroke="#000" stroke-width="0.9"/>
<line x1="49.8" y1="633.65" x2="52.599999999999994" y2="633.65" stroke="#000" stroke-width="0.9"/>
<line x1="308.3" y1="633.65" x2="305.5" y2="633.65" stroke="#000" stroke-width="0.9"/>
<line x1="49.8" y1="632.60" x2="54.599999999999994" y2="632.60" stroke="#000" stroke-width="0.9"/>
<line x1="308.3" y1="632.60" x2="303.5" y2="632.60" stroke="#000" stroke-width="0.9"/>
<line x1="49.8" y1="625.68" x2="52.599999999999994" y2="625.68" stroke="#000" stroke-width="0.9"/>
<line x1="308.3" y1="625.68" x2="305.5" y2="625.68" stroke="#000" stroke-width="0.9"/>
<line x1="49.8" y1="621.63" x2="52.599999999999994" y2="621.63" stroke="#000" stroke-width="0.9"/>
<line x1="308.3" y1="621.63" x2="305.5" y2="621.63" stroke="#000" stroke-width="0.9"/>
<line x1="49.8" y1="618.75" x2="52.599999999999994" y2="618.75" stroke="#000" stroke-width="0.9"/>
<line x1="308.3" y1="618.75" x2="305.5" y2="618.75" stroke="#000" stroke-width="0.9"/>
<line x1="49.8" y1="616.52" x2="52.599999999999994" y2="616.52" stroke="#000" stroke-width="0.9"/>
<line x1="308.3" y1="616.52" x2="305.5" y2="616.52" stroke="#000" stroke-width="0.9"/>
<line x1="49.8" y1="614.70" x2="52.599999999999994" y2="614.70" stroke="#000" stroke-width="0.9"/>
<line x1="308.3" y1="614.70" x2="305.5" y2="614.70" stroke="#000" stroke-width="0.9"/>
<line x1="49.8" y1="613.16" x2="52.599999999999994" y2="613.16" stroke="#000" stroke-width="0.9"/>
<line x1="308.3" y1="613.16" x2="305.5" y2="613.16" stroke="#000" stroke-width="0.9"/>
<line x1="49.8" y1="611.83" x2="52.599999999999994" y2="611.83" stroke="#000" stroke-width="0.9"/>
<line x1="308.3" y1="611.83" x2="305.5" y2="611.83" stroke="#000" stroke-width="0.9"/>
<line x1="49.8" y1="610.65" x2="52.599999999999994" y2="610.65" stroke="#000" stroke-width="0.9"/>
<line x1="308.3" y1="610.65" x2="305.5" y2="610.65" stroke="#000" stroke-width="0.9"/>
<line x1="49.8" y1="609.60" x2="54.599999999999994" y2="609.60" stroke="#000" stroke-width="0.9"/>
<line x1="308.3" y1="609.60" x2="303.5" y2="609.60" stroke="#000" stroke-width="0.9"/>
<line x1="49.8" y1="602.68" x2="52.599999999999994" y2="602.68" stroke="#000" stroke-width="0.9"/>
<line x1="308.3" y1="602.68" x2="305.5" y2="602.68" stroke="#000" stroke-width="0.9"/>
<line x1="49.8" y1="598.63" x2="52.599999999999994" y2="598.63" stroke="#000" stroke-width="0.9"/>
<line x1="308.3" y1="598.63" x2="305.5" y2="598.63" stroke="#000" stroke-width="0.9"/>
<line x1="49.8" y1="595.75" x2="52.599999999999994" y2="595.75" stroke="#000" stroke-width="0.9"/>
<line x1="308.3" y1="595.75" x2="305.5" y2="595.75" stroke="#000" stroke-width="0.9"/>
<line x1="49.8" y1="593.52" x2="52.599999999999994" y2="593.52" stroke="#000" stroke-width="0.9"/>
<line x1="308.3" y1="593.52" x2="305.5" y2="593.52" stroke="#000" stroke-width="0.9"/>
<line x1="49.8" y1="591.70" x2="52.599999999999994" y2="591.70" stroke="#000" stroke-width="0.9"/>
<line x1="308.3" y1="591.70" x2="305.5" y2="591.70" stroke="#000" stroke-width="0.9"/>
<line x1="49.8" y1="590.16" x2="52.599999999999994" y2="590.16" stroke="#000" stroke-width="0.9"/>
<line x1="308.3" y1="590.16" x2="305.5" y2="590.16" stroke="#000" stroke-width="0.9"/>
<line x1="49.8" y1="588.83" x2="52.599999999999994" y2="588.83" stroke="#000" stroke-width="0.9"/>
<line x1="308.3" y1="588.83" x2="305.5" y2="588.83" stroke="#000" stroke-width="0.9"/>
<line x1="49.8" y1="587.65" x2="52.599999999999994" y2="587.65" stroke="#000" stroke-width="0.9"/>
<line x1="308.3" y1="587.65" x2="305.5" y2="587.65" stroke="#000" stroke-width="0.9"/>
<line x1="49.8" y1="586.60" x2="54.599999999999994" y2="586.60" stroke="#000" stroke-width="0.9"/>
<line x1="308.3" y1="586.60" x2="303.5" y2="586.60" stroke="#000" stroke-width="0.9"/>
<line x1="49.8" y1="579.68" x2="52.599999999999994" y2="579.68" stroke="#000" stroke-width="0.9"/>
<line x1="308.3" y1="579.68" x2="305.5" y2="579.68" stroke="#000" stroke-width="0.9"/>
<line x1="49.8" y1="575.63" x2="52.599999999999994" y2="575.63" stroke="#000" stroke-width="0.9"/>
<line x1="308.3" y1="575.63" x2="305.5" y2="575.63" stroke="#000" stroke-width="0.9"/>
<line x1="49.8" y1="572.75" x2="52.599999999999994" y2="572.75" stroke="#000" stroke-width="0.9"/>
<line x1="308.3" y1="572.75" x2="305.5" y2="572.75" stroke="#000" stroke-width="0.9"/>
<line x1="49.8" y1="570.52" x2="52.599999999999994" y2="570.52" stroke="#000" stroke-width="0.9"/>
<line x1="308.3" y1="570.52" x2="305.5" y2="570.52" stroke="#000" stroke-width="0.9"/>
<line x1="49.8" y1="568.70" x2="52.599999999999994" y2="568.70" stroke="#000" stroke-width="0.9"/>
<line x1="308.3" y1="568.70" x2="305.5" y2="568.70" stroke="#000" stroke-width="0.9"/>
<line x1="49.8" y1="567.16" x2="52.599999999999994" y2="567.16" stroke="#000" stroke-width="0.9"/>
<line x1="308.3" y1="567.16" x2="305.5" y2="567.16" stroke="#000" stroke-width="0.9"/>
<line x1="49.8" y1="565.83" x2="52.599999999999994" y2="565.83" stroke="#000" stroke-width="0.9"/>
<line x1="308.3" y1="565.83" x2="305.5" y2="565.83" stroke="#000" stroke-width="0.9"/>
<line x1="49.8" y1="564.65" x2="52.599999999999994" y2="564.65" stroke="#000" stroke-width="0.9"/>
<line x1="308.3" y1="564.65" x2="305.5" y2="564.65" stroke="#000" stroke-width="0.9"/>
<line x1="49.8" y1="563.60" x2="54.599999999999994" y2="563.60" stroke="#000" stroke-width="0.9"/>
<line x1="308.3" y1="563.60" x2="303.5" y2="563.60" stroke="#000" stroke-width="0.9"/>
<line x1="49.8" y1="556.68" x2="52.599999999999994" y2="556.68" stroke="#000" stroke-width="0.9"/>
<line x1="308.3" y1="556.68" x2="305.5" y2="556.68" stroke="#000" stroke-width="0.9"/>
<line x1="49.8" y1="552.63" x2="52.599999999999994" y2="552.63" stroke="#000" stroke-width="0.9"/>
<line x1="308.3" y1="552.63" x2="305.5" y2="552.63" stroke="#000" stroke-width="0.9"/>
<line x1="49.8" y1="549.75" x2="52.599999999999994" y2="549.75" stroke="#000" stroke-width="0.9"/>
<line x1="308.3" y1="549.75" x2="305.5" y2="549.75" stroke="#000" stroke-width="0.9"/>
<line x1="49.8" y1="547.52" x2="52.599999999999994" y2="547.52" stroke="#000" stroke-width="0.9"/>
<line x1="308.3" y1="547.52" x2="305.5" y2="547.52" stroke="#000" stroke-width="0.9"/>
<line x1="49.8" y1="545.70" x2="52.599999999999994" y2="545.70" stroke="#000" stroke-width="0.9"/>
<line x1="308.3" y1="545.70" x2="305.5" y2="545.70" stroke="#000" stroke-width="0.9"/>
<line x1="49.8" y1="544.16" x2="52.599999999999994" y2="544.16" stroke="#000" stroke-width="0.9"/>
<line x1="308.3" y1="544.16" x2="305.5" y2="544.16" stroke="#000" stroke-width="0.9"/>
<line x1="49.8" y1="542.83" x2="52.599999999999994" y2="542.83" stroke="#000" stroke-width="0.9"/>
<line x1="308.3" y1="542.83" x2="305.5" y2="542.83" stroke="#000" stroke-width="0.9"/>
<line x1="49.8" y1="541.65" x2="52.599999999999994" y2="541.65" stroke="#000" stroke-width="0.9"/>
<line x1="308.3" y1="541.65" x2="305.5" y2="541.65" stroke="#000" stroke-width="0.9"/>
<line x1="49.8" y1="540.60" x2="54.599999999999994" y2="540.60" stroke="#000" stroke-width="0.9"/>
<line x1="308.3" y1="540.60" x2="303.5" y2="540.60" stroke="#000" stroke-width="0.9"/>
<line x1="49.8" y1="533.68" x2="52.599999999999994" y2="533.68" stroke="#000" stroke-width="0.9"/>
<line x1="308.3" y1="533.68" x2="305.5" y2="533.68" stroke="#000" stroke-width="0.9"/>
<line x1="49.8" y1="529.63" x2="52.599999999999994" y2="529.63" stroke="#000" stroke-width="0.9"/>
<line x1="308.3" y1="529.63" x2="305.5" y2="529.63" stroke="#000" stroke-width="0.9"/>
<line x1="49.8" y1="526.75" x2="52.599999999999994" y2="526.75" stroke="#000" stroke-width="0.9"/>
<line x1="308.3" y1="526.75" x2="305.5" y2="526.75" stroke="#000" stroke-width="0.9"/>
<line x1="49.8" y1="524.52" x2="52.599999999999994" y2="524.52" stroke="#000" stroke-width="0.9"/>
<line x1="308.3" y1="524.52" x2="305.5" y2="524.52" stroke="#000" stroke-width="0.9"/>
<line x1="49.8" y1="522.70" x2="52.599999999999994" y2="522.70" stroke="#000" stroke-width="0.9"/>
<line x1="308.3" y1="522.70" x2="305.5" y2="522.70" stroke="#000" stroke-width="0.9"/>
<line x1="49.8" y1="521.16" x2="52.599999999999994" y2="521.16" stroke="#000" stroke-width="0.9"/>
<line x1="308.3" y1="521.16" x2="305.5" y2="521.16" stroke="#000" stroke-width="0.9"/>
<line x1="49.8" y1="519.83" x2="52.599999999999994" y2="519.83" stroke="#000" stroke-width="0.9"/>
<line x1="308.3" y1="519.83" x2="305.5" y2="519.83" stroke="#000" stroke-width="0.9"/>
<line x1="49.8" y1="518.65" x2="52.599999999999994" y2="518.65" stroke="#000" stroke-width="0.9"/>
<line x1="308.3" y1="518.65" x2="305.5" y2="518.65" stroke="#000" stroke-width="0.9"/>
<line x1="49.8" y1="517.60" x2="54.599999999999994" y2="517.60" stroke="#000" stroke-width="0.9"/>
<line x1="308.3" y1="517.60" x2="303.5" y2="517.60" stroke="#000" stroke-width="0.9"/>
<line x1="49.8" y1="510.68" x2="52.599999999999994" y2="510.68" stroke="#000" stroke-width="0.9"/>
<line x1="308.3" y1="510.68" x2="305.5" y2="510.68" stroke="#000" stroke-width="0.9"/>
<line x1="49.8" y1="506.63" x2="52.599999999999994" y2="506.63" stroke="#000" stroke-width="0.9"/>
<line x1="308.3" y1="506.63" x2="305.5" y2="506.63" stroke="#000" stroke-width="0.9"/>
<line x1="49.8" y1="503.75" x2="52.599999999999994" y2="503.75" stroke="#000" stroke-width="0.9"/>
<line x1="308.3" y1="503.75" x2="305.5" y2="503.75" stroke="#000" stroke-width="0.9"/>
<line x1="49.8" y1="501.52" x2="52.599999999999994" y2="501.52" stroke="#000" stroke-width="0.9"/>
<line x1="308.3" y1="501.52" x2="305.5" y2="501.52" stroke="#000" stroke-width="0.9"/>
<line x1="49.8" y1="499.70" x2="52.599999999999994" y2="499.70" stroke="#000" stroke-width="0.9"/>
<line x1="308.3" y1="499.70" x2="305.5" y2="499.70" stroke="#000" stroke-width="0.9"/>
<line x1="49.8" y1="498.16" x2="52.599999999999994" y2="498.16" stroke="#000" stroke-width="0.9"/>
<line x1="308.3" y1="498.16" x2="305.5" y2="498.16" stroke="#000" stroke-width="0.9"/>
<line x1="49.8" y1="496.83" x2="52.599999999999994" y2="496.83" stroke="#000" stroke-width="0.9"/>
<line x1="308.3" y1="496.83" x2="305.5" y2="496.83" stroke="#000" stroke-width="0.9"/>
<line x1="49.8" y1="495.65" x2="52.599999999999994" y2="495.65" stroke="#000" stroke-width="0.9"/>
<line x1="308.3" y1="495.65" x2="305.5" y2="495.65" stroke="#000" stroke-width="0.9"/>
<line x1="49.8" y1="494.60" x2="54.599999999999994" y2="494.60" stroke="#000" stroke-width="0.9"/>
<line x1="308.3" y1="494.60" x2="303.5" y2="494.60" stroke="#000" stroke-width="0.9"/>
<line x1="49.8" y1="487.68" x2="52.599999999999994" y2="487.68" stroke="#000" stroke-width="0.9"/>
<line x1="308.3" y1="487.68" x2="305.5" y2="487.68" stroke="#000" stroke-width="0.9"/>
<line x1="49.8" y1="483.63" x2="52.599999999999994" y2="483.63" stroke="#000" stroke-width="0.9"/>
<line x1="308.3" y1="483.63" x2="305.5" y2="483.63" stroke="#000" stroke-width="0.9"/>
<line x1="49.8" y1="480.75" x2="52.599999999999994" y2="480.75" stroke="#000" stroke-width="0.9"/>
<line x1="308.3" y1="480.75" x2="305.5" y2="480.75" stroke="#000" stroke-width="0.9"/>
<line x1="49.8" y1="478.52" x2="52.599999999999994" y2="478.52" stroke="#000" stroke-width="0.9"/>
<line x1="308.3" y1="478.52" x2="305.5" y2="478.52" stroke="#000" stroke-width="0.9"/>
<line x1="49.8" y1="476.70" x2="52.599999999999994" y2="476.70" stroke="#000" stroke-width="0.9"/>
<line x1="308.3" y1="476.70" x2="305.5" y2="476.70" stroke="#000" stroke-width="0.9"/>
<line x1="49.8" y1="475.16" x2="52.599999999999994" y2="475.16" stroke="#000" stroke-width="0.9"/>
<line x1="308.3" y1="475.16" x2="305.5" y2="475.16" stroke="#000" stroke-width="0.9"/>
<line x1="49.8" y1="473.83" x2="52.599999999999994" y2="473.83" stroke="#000" stroke-width="0.9"/>
<line x1="308.3" y1="473.83" x2="305.5" y2="473.83" stroke="#000" stroke-width="0.9"/>
<line x1="49.8" y1="472.65" x2="52.599999999999994" y2="472.65" stroke="#000" stroke-width="0.9"/>
<line x1="308.3" y1="472.65" x2="305.5" y2="472.65" stroke="#000" stroke-width="0.9"/>
<line x1="49.8" y1="471.60" x2="54.599999999999994" y2="471.60" stroke="#000" stroke-width="0.9"/>
<line x1="308.3" y1="471.60" x2="303.5" y2="471.60" stroke="#000" stroke-width="0.9"/>
<line x1="82.11" y1="678.6" x2="82.11" y2="675.8000000000001" stroke="#000" stroke-width="0.9"/>
<line x1="82.11" y1="471.6" x2="82.11" y2="474.40000000000003" stroke="#000" stroke-width="0.9"/>
<line x1="114.42" y1="678.6" x2="114.42" y2="673.8000000000001" stroke="#000" stroke-width="0.9"/>
<line x1="114.42" y1="471.6" x2="114.42" y2="476.40000000000003" stroke="#000" stroke-width="0.9"/>
<line x1="146.74" y1="678.6" x2="146.74" y2="675.8000000000001" stroke="#000" stroke-width="0.9"/>
<line x1="146.74" y1="471.6" x2="146.74" y2="474.40000000000003" stroke="#000" stroke-width="0.9"/>
<line x1="211.36" y1="678.6" x2="211.36" y2="675.8000000000001" stroke="#000" stroke-width="0.9"/>
<line x1="211.36" y1="471.6" x2="211.36" y2="474.40000000000003" stroke="#000" stroke-width="0.9"/>
<line x1="243.68" y1="678.6" x2="243.68" y2="673.8000000000001" stroke="#000" stroke-width="0.9"/>
<line x1="243.68" y1="471.6" x2="243.68" y2="476.40000000000003" stroke="#000" stroke-width="0.9"/>
<line x1="275.99" y1="678.6" x2="275.99" y2="675.8000000000001" stroke="#000" stroke-width="0.9"/>
<line x1="275.99" y1="471.6" x2="275.99" y2="474.40000000000003" stroke="#000" stroke-width="0.9"/>
<text x="45.4" y="499.8" font-family='"Liberation Sans", Arial, sans-serif' font-size="14.5" text-anchor="end">10<tspan font-size="8.2" dy="-8.6">-3</tspan></text>
<text x="45.4" y="545.8" font-family='"Liberation Sans", Arial, sans-serif' font-size="14.5" text-anchor="end">10<tspan font-size="8.2" dy="-8.6">-5</tspan></text>
<text x="45.4" y="591.8" font-family='"Liberation Sans", Arial, sans-serif' font-size="14.5" text-anchor="end">10<tspan font-size="8.2" dy="-8.6">-7</tspan></text>
<text x="45.4" y="637.8" font-family='"Liberation Sans", Arial, sans-serif' font-size="14.5" text-anchor="end">10<tspan font-size="8.2" dy="-8.6">-9</tspan></text>
<text x="45.4" y="683.8" font-family='"Liberation Sans", Arial, sans-serif' font-size="14.5" text-anchor="end">10<tspan font-size="8.2" dy="-8.6">-11</tspan></text>
<text x="49.8" y="694.3" font-family='"Liberation Sans", Arial, sans-serif' font-size="14" text-anchor="middle">-2</text>
<text x="114.4" y="694.3" font-family='"Liberation Sans", Arial, sans-serif' font-size="14" text-anchor="middle">-1</text>
<text x="243.7" y="694.3" font-family='"Liberation Sans", Arial, sans-serif' font-size="14" text-anchor="middle">1</text>
<text x="308.3" y="694.3" font-family='"Liberation Sans", Arial, sans-serif' font-size="14" text-anchor="middle">2</text>
<text x="180.3" y="712.5" font-family='"Liberation Serif", "Times New Roman", serif' font-size="18" text-anchor="middle">Voltage (V)</text>
<text transform="translate(14.2,587) rotate(-90)" font-family='"Liberation Serif", "Times New Roman", serif' font-size="18" text-anchor="middle">Current (A)</text>
<path d="M374.99,661.74 L376.05,661.64 L377.11,661.55 L378.17,661.46 L379.23,661.37 L380.29,661.29 L381.35,661.21 L382.41,661.14 L383.47,661.07 L384.53,661.00 L385.59,660.94 L386.65,660.88 L387.70,660.83 L388.76,660.78 L389.82,660.73 L390.88,660.69 L391.94,660.65 L393.00,660.62 L394.06,660.59 L395.12,660.56 L396.18,660.53 L397.24,660.51 L398.30,660.50 L399.35,660.48 L400.41,660.47 L401.47,660.46 L402.53,660.46 L403.59,660.46 L404.65,660.46 L405.71,660.46 L406.77,660.47 L407.83,660.48 L408.89,660.50 L409.94,660.51 L411.00,660.53 L412.06,660.55 L413.12,660.58 L414.18,660.61 L415.24,660.64 L416.30,660.67 L417.36,660.70 L418.42,660.74 L419.47,660.78 L420.53,660.82 L421.59,660.87 L422.65,660.92 L423.71,660.96 L424.77,661.02 L425.83,661.07 L426.89,661.12 L427.94,661.18 L429.00,661.24 L430.06,661.30 L431.12,661.36 L432.18,661.43 L433.24,661.49 L434.30,661.56 L435.35,661.63 L436.41,661.70 L437.47,661.78 L438.53,661.85 L439.59,661.93 L440.65,662.00 L441.70,662.08 L442.76,662.16 L443.82,662.24 L444.88,662.32 L445.94,662.41 L446.99,662.49 L448.05,662.58 L449.11,662.66 L450.17,662.75 L451.23,662.84 L452.28,662.93 L453.34,663.02 L454.40,663.11 L455.46,663.20 L456.52,663.29 L457.57,663.38 L458.63,663.47 L459.69,663.57 L460.75,663.66 L461.80,663.75 L462.86,663.85 L463.92,663.94 L464.98,664.04 L466.03,664.13 L467.09,664.23 L468.15,664.32 L469.20,664.42 L470.26,664.51 L471.32,664.61 L472.38,664.70 L473.43,664.80 L474.49,664.89 L475.55,664.98 L476.60,665.08 L477.66,665.17 L478.72,665.26 L479.77,665.36 L480.83,665.45 L481.89,665.54 L482.94,665.63 L484.00,665.72 L485.06,665.81 L486.11,665.90 L487.17,665.98 L488.23,666.07 L489.28,666.16 L490.34,666.24 L491.39,666.32 L492.45,666.41 L493.51,666.49 L494.56,666.57 L495.62,666.65 L496.67,666.72 L497.73,666.80 L498.79,666.87 L499.84,666.95 L500.90,667.02" fill="none" stroke="#111" stroke-width="1.6" stroke-linejoin="round"/>
<path d="M375.00,658.21 L376.06,658.22 L377.12,658.23 L378.18,658.24 L379.24,658.25 L380.31,658.26 L381.37,658.27 L382.43,658.29 L383.49,658.30 L384.55,658.32 L385.61,658.33 L386.67,658.35 L387.73,658.37 L388.79,658.39 L389.85,658.41 L390.91,658.42 L391.97,658.45 L393.03,658.47 L394.09,658.49 L395.15,658.51 L396.21,658.54 L397.27,658.56 L398.34,658.59 L399.40,658.61 L400.46,658.64 L401.52,658.67 L402.58,658.69 L403.64,658.72 L404.70,658.75 L405.76,658.78 L406.82,658.82 L407.88,658.85 L408.94,658.88 L410.00,658.92 L411.06,658.95 L412.12,658.99 L413.18,659.02 L414.25,659.06 L415.31,659.10 L416.37,659.14 L417.43,659.18 L418.49,659.22 L419.55,659.26 L420.61,659.31 L421.67,659.35 L422.73,659.39 L423.79,659.44 L424.85,659.49 L425.91,659.53 L426.97,659.58 L428.03,659.63 L429.09,659.68 L430.15,659.73 L431.21,659.78 L432.27,659.84 L433.33,659.89 L434.39,659.94 L435.45,660.00 L436.51,660.06 L437.57,660.11 L438.63,660.17 L439.69,660.23 L440.75,660.29 L441.81,660.35 L442.87,660.42 L443.93,660.48 L444.99,660.54 L446.05,660.61 L447.11,660.68 L448.17,660.74 L449.22,660.81 L450.28,660.88 L451.34,660.95 L452.40,661.02 L453.46,661.10 L454.52,661.17 L455.58,661.24 L456.64,661.32 L457.69,661.40 L458.75,661.47 L459.81,661.55 L460.87,661.63 L461.93,661.71 L462.99,661.79 L464.04,661.88 L465.10,661.96 L466.16,662.05 L467.22,662.13 L468.27,662.22 L469.33,662.31 L470.39,662.40 L471.45,662.49 L472.50,662.58 L473.56,662.67 L474.62,662.76 L475.67,662.86 L476.73,662.96 L477.79,663.05 L478.84,663.15 L479.90,663.25 L480.96,663.35 L482.01,663.45 L483.07,663.55 L484.12,663.66 L485.18,663.76 L486.23,663.87 L487.29,663.98 L488.35,664.09 L489.40,664.19 L490.46,664.31 L491.51,664.42 L492.57,664.53 L493.62,664.65 L494.67,664.76 L495.73,664.88 L496.78,665.00 L497.84,665.11 L498.89,665.24 L499.94,665.36 L501.00,665.48" fill="none" stroke="#23237a" stroke-width="1.7" stroke-dasharray="6.3,5.7" stroke-linejoin="round"/>
<path d="M375.00,655.91 L376.07,655.91 L377.13,655.91 L378.19,655.91 L379.25,655.92 L380.31,655.92 L381.37,655.93 L382.44,655.94 L383.50,655.95 L384.56,655.97 L385.62,655.98 L386.68,656.00 L387.74,656.02 L388.81,656.04 L389.87,656.06 L390.93,656.08 L391.99,656.10 L393.05,656.13 L394.11,656.16 L395.17,656.18 L396.24,656.21 L397.30,656.24 L398.36,656.28 L399.42,656.31 L400.48,656.35 L401.54,656.38 L402.60,656.42 L403.66,656.46 L404.73,656.50 L405.79,656.55 L406.85,656.59 L407.91,656.64 L408.97,656.68 L410.03,656.73 L411.09,656.78 L412.15,656.83 L413.21,656.88 L414.28,656.94 L415.34,656.99 L416.40,657.05 L417.46,657.10 L418.52,657.16 L419.58,657.22 L420.64,657.28 L421.70,657.35 L422.76,657.41 L423.82,657.47 L424.88,657.54 L425.94,657.61 L427.00,657.68 L428.06,657.75 L429.12,657.82 L430.18,657.89 L431.24,657.96 L432.30,658.04 L433.36,658.11 L434.42,658.19 L435.48,658.27 L436.54,658.34 L437.60,658.42 L438.66,658.51 L439.72,658.59 L440.78,658.67 L441.84,658.76 L442.90,658.84 L443.96,658.93 L445.02,659.02 L446.08,659.10 L447.14,659.19 L448.19,659.29 L449.25,659.38 L450.31,659.47 L451.37,659.56 L452.43,659.66 L453.49,659.75 L454.55,659.85 L455.60,659.95 L456.66,660.05 L457.72,660.15 L458.78,660.25 L459.84,660.35 L460.89,660.45 L461.95,660.55 L463.01,660.66 L464.07,660.76 L465.12,660.87 L466.18,660.98 L467.24,661.08 L468.30,661.19 L469.35,661.30 L470.41,661.41 L471.47,661.52 L472.52,661.64 L473.58,661.75 L474.64,661.86 L475.69,661.98 L476.75,662.09 L477.80,662.21 L478.86,662.33 L479.91,662.44 L480.97,662.56 L482.03,662.68 L483.08,662.80 L484.14,662.92 L485.19,663.04 L486.25,663.16 L487.30,663.29 L488.36,663.41 L489.41,663.53 L490.47,663.66 L491.52,663.78 L492.57,663.91 L493.63,664.04 L494.68,664.16 L495.74,664.29 L496.79,664.42 L497.84,664.55 L498.90,664.68 L499.95,664.81 L501.00,664.94" fill="none" stroke="#2424a8" stroke-width="1.9" stroke-dasharray="2,5.2" stroke-linejoin="round"/>
<path d="M375.01,652.83 L376.08,652.83 L377.14,652.83 L378.20,652.83 L379.27,652.84 L380.33,652.85 L381.39,652.86 L382.45,652.88 L383.52,652.90 L384.58,652.92 L385.64,652.94 L386.70,652.97 L387.77,653.00 L388.83,653.03 L389.89,653.07 L390.95,653.11 L392.01,653.15 L393.08,653.20 L394.14,653.24 L395.20,653.29 L396.26,653.34 L397.32,653.40 L398.38,653.45 L399.44,653.51 L400.50,653.57 L401.56,653.64 L402.63,653.70 L403.69,653.77 L404.75,653.84 L405.81,653.92 L406.87,653.99 L407.93,654.07 L408.99,654.15 L410.05,654.23 L411.11,654.31 L412.17,654.39 L413.23,654.48 L414.29,654.57 L415.35,654.66 L416.41,654.75 L417.47,654.85 L418.53,654.94 L419.59,655.04 L420.64,655.14 L421.70,655.24 L422.76,655.34 L423.82,655.44 L424.88,655.55 L425.94,655.65 L427.00,655.76 L428.06,655.87 L429.12,655.98 L430.17,656.09 L431.23,656.20 L432.29,656.32 L433.35,656.43 L434.41,656.55 L435.47,656.66 L436.53,656.78 L437.58,656.90 L438.64,657.02 L439.70,657.14 L440.76,657.26 L441.82,657.38 L442.87,657.51 L443.93,657.63 L444.99,657.76 L446.05,657.88 L447.11,658.01 L448.16,658.13 L449.22,658.26 L450.28,658.39 L451.34,658.52 L452.39,658.64 L453.45,658.77 L454.51,658.90 L455.57,659.03 L456.62,659.16 L457.68,659.29 L458.74,659.42 L459.80,659.55 L460.85,659.68 L461.91,659.81 L462.97,659.94 L464.02,660.07 L465.08,660.20 L466.14,660.33 L467.20,660.46 L468.25,660.59 L469.31,660.72 L470.37,660.85 L471.42,660.97 L472.48,661.10 L473.54,661.23 L474.59,661.36 L475.65,661.49 L476.71,661.61 L477.77,661.74 L478.82,661.86 L479.88,661.99 L480.94,662.11 L481.99,662.24 L483.05,662.36 L484.11,662.48 L485.16,662.60 L486.22,662.72 L487.28,662.84 L488.33,662.96 L489.39,663.08 L490.45,663.19 L491.50,663.31 L492.56,663.42 L493.62,663.54 L494.68,663.65 L495.73,663.76 L496.79,663.87 L497.85,663.98 L498.90,664.08 L499.96,664.19 L501.02,664.29" fill="none" stroke="#2020cc" stroke-width="1.6" stroke-dasharray="5.7,2.8,2,2.8,2,2.6" stroke-linejoin="round"/>
<path d="M374.99,649.17 L376.07,649.14 L377.14,649.11 L378.21,649.09 L379.28,649.07 L380.36,649.06 L381.43,649.06 L382.50,649.06 L383.56,649.07 L384.63,649.09 L385.70,649.11 L386.77,649.13 L387.84,649.16 L388.90,649.20 L389.97,649.24 L391.03,649.29 L392.10,649.34 L393.16,649.39 L394.23,649.46 L395.29,649.52 L396.35,649.59 L397.42,649.67 L398.48,649.75 L399.54,649.83 L400.60,649.92 L401.66,650.01 L402.73,650.11 L403.79,650.21 L404.85,650.31 L405.91,650.42 L406.96,650.53 L408.02,650.64 L409.08,650.76 L410.14,650.88 L411.20,651.01 L412.26,651.14 L413.31,651.27 L414.37,651.41 L415.43,651.54 L416.48,651.68 L417.54,651.83 L418.60,651.97 L419.65,652.12 L420.71,652.27 L421.76,652.43 L422.82,652.58 L423.87,652.74 L424.93,652.90 L425.98,653.06 L427.04,653.22 L428.09,653.39 L429.15,653.56 L430.20,653.73 L431.26,653.90 L432.31,654.07 L433.36,654.24 L434.42,654.42 L435.47,654.59 L436.52,654.77 L437.58,654.95 L438.63,655.13 L439.68,655.31 L440.74,655.49 L441.79,655.67 L442.84,655.85 L443.90,656.03 L444.95,656.21 L446.00,656.39 L447.06,656.58 L448.11,656.76 L449.16,656.94 L450.22,657.12 L451.27,657.30 L452.32,657.49 L453.38,657.67 L454.43,657.85 L455.48,658.03 L456.54,658.21 L457.59,658.39 L458.64,658.56 L459.70,658.74 L460.75,658.92 L461.81,659.09 L462.86,659.26 L463.92,659.44 L464.97,659.61 L466.03,659.77 L467.08,659.94 L468.14,660.11 L469.19,660.27 L470.25,660.43 L471.31,660.59 L472.36,660.75 L473.42,660.90 L474.48,661.06 L475.53,661.21 L476.59,661.36 L477.65,661.50 L478.71,661.64 L479.76,661.78 L480.82,661.92 L481.88,662.06 L482.94,662.19 L484.00,662.32 L485.06,662.44 L486.12,662.56 L487.18,662.68 L488.24,662.79 L489.31,662.91 L490.37,663.01 L491.43,663.12 L492.49,663.22 L493.56,663.31 L494.62,663.40 L495.68,663.49 L496.75,663.57 L497.81,663.65 L498.88,663.73 L499.95,663.80 L501.01,663.86" fill="none" stroke="#1414ff" stroke-width="1.9" stroke-dasharray="7.2,2.8,2.2,2.8" stroke-linejoin="round"/>
<path d="M375.05,604.47 L376.20,604.59 L377.35,604.72 L378.50,604.85 L379.65,604.98 L380.81,605.12 L381.96,605.26 L383.12,605.40 L384.27,605.54 L385.43,605.69 L386.58,605.84 L387.74,605.99 L388.90,606.15 L390.05,606.31 L391.21,606.47 L392.37,606.64 L393.53,606.81 L394.68,606.98 L395.84,607.16 L397.00,607.34 L398.16,607.52 L399.32,607.71 L400.47,607.90 L401.63,608.10 L402.79,608.30 L403.95,608.50 L405.10,608.71 L406.26,608.92 L407.41,609.13 L408.57,609.35 L409.72,609.58 L410.87,609.80 L412.03,610.04 L413.18,610.27 L414.33,610.51 L415.48,610.76 L416.63,611.01 L417.77,611.27 L418.92,611.53 L420.07,611.79 L421.21,612.06 L422.35,612.34 L423.49,612.61 L424.63,612.90 L425.77,613.19 L426.91,613.48 L428.04,613.78 L429.17,614.09 L430.31,614.40 L431.44,614.72 L432.56,615.04 L433.69,615.37 L434.81,615.70 L435.93,616.04 L437.05,616.38 L438.17,616.73 L439.28,617.09 L440.40,617.45 L441.51,617.82 L442.62,618.19 L443.72,618.57 L444.82,618.96 L445.92,619.35 L447.02,619.75 L448.12,620.15 L449.21,620.56 L450.30,620.98 L451.38,621.41 L452.47,621.84 L453.55,622.27 L454.62,622.72 L455.70,623.17 L456.77,623.63 L457.83,624.09 L458.90,624.56 L459.96,625.04 L461.02,625.53 L462.07,626.02 L463.12,626.52 L464.17,627.03 L465.21,627.54 L466.25,628.07 L467.28,628.60 L468.31,629.13 L469.34,629.68 L470.36,630.23 L471.38,630.79 L472.40,631.36 L473.41,631.93 L474.41,632.51 L475.42,633.11 L476.41,633.71 L477.41,634.31 L478.40,634.93 L479.38,635.55 L480.36,636.18 L481.34,636.82 L482.31,637.47 L483.27,638.13 L484.23,638.79 L485.19,639.47 L486.14,640.15 L487.08,640.84 L488.02,641.54 L488.96,642.25 L489.89,642.97 L490.82,643.69 L491.74,644.43 L492.65,645.17 L493.56,645.93 L494.46,646.69 L495.36,647.46 L496.25,648.24 L497.14,649.03 L498.02,649.83 L498.89,650.64 L499.76,651.46 L500.62,652.29 L501.48,653.13 L502.33,653.97" fill="none" stroke="#6b6bff" stroke-width="1.3" stroke-dasharray="3.3,2.2" stroke-linejoin="round"/>
<path d="M521.75,678.51 L521.76,676.57 L521.87,674.65 L522.07,672.76 L522.35,670.89 L522.71,669.04 L523.13,667.21 L523.60,665.38 L524.12,663.56 L524.67,661.75 L525.25,659.93 L525.84,658.12 L526.45,656.30 L527.07,654.48 L527.71,652.66 L528.35,650.84 L529.01,649.02 L529.68,647.19 L530.35,645.37 L531.04,643.54 L531.74,641.72 L532.44,639.90 L533.16,638.07 L533.88,636.25 L534.61,634.43 L535.34,632.62 L536.08,630.80 L536.83,628.99 L537.58,627.18 L538.33,625.37 L539.09,623.57 L539.85,621.77 L540.61,619.98 L541.38,618.19 L542.15,616.40 L542.91,614.62 L543.68,612.85 L544.45,611.08 L545.22,609.31 L545.99,607.55 L546.76,605.80 L547.53,604.04 L548.30,602.30 L549.07,600.55 L549.84,598.81 L550.62,597.07 L551.39,595.33 L552.17,593.59 L552.95,591.86 L553.72,590.12 L554.50,588.39 L555.28,586.66 L556.06,584.92 L556.85,583.19 L557.63,581.46 L558.42,579.72 L559.20,577.99 L559.99,576.25 L560.78,574.52 L561.57,572.78 L562.36,571.03 L563.16,569.29 L563.95,567.54 L564.75,565.79 L565.55,564.03 L566.35,562.28 L567.16,560.51 L567.96,558.74 L568.77,556.97 L569.58,555.19 L570.39,553.41 L571.20,551.62 L572.02,549.83 L572.84,548.03 L573.67,546.23 L574.50,544.43 L575.34,542.63 L576.18,540.84 L577.04,539.05 L577.90,537.26 L578.78,535.48 L579.67,533.71 L580.57,531.95 L581.49,530.20 L582.42,528.47 L583.37,526.74 L584.33,525.04 L585.31,523.35 L586.31,521.67 L587.33,520.02 L588.37,518.39 L589.44,516.79 L590.52,515.20 L591.63,513.64 L592.77,512.11 L593.93,510.61 L595.12,509.14 L596.34,507.70 L597.58,506.29 L598.86,504.92 L600.16,503.58 L601.50,502.28 L602.87,501.02 L604.27,499.80 L605.71,498.62 L607.19,497.48 L608.70,496.39 L610.25,495.34 L611.84,494.34 L613.47,493.39 L615.14,492.49 L616.85,491.64 L618.60,490.84 L620.40,490.10 L622.24,489.41 L624.13,488.78 L626.07,488.21 L628.05,487.70 L630.08,487.26 L632.16,486.87" fill="none" stroke="#111" stroke-width="1.6" stroke-linejoin="round"/>
<path d="M518.48,673.53 L519.16,671.70 L519.84,669.88 L520.51,668.05 L521.19,666.23 L521.87,664.41 L522.54,662.59 L523.22,660.77 L523.90,658.95 L524.57,657.14 L525.25,655.32 L525.93,653.51 L526.60,651.70 L527.28,649.89 L527.96,648.08 L528.63,646.27 L529.31,644.47 L529.99,642.66 L530.67,640.86 L531.35,639.06 L532.03,637.26 L532.72,635.46 L533.40,633.66 L534.08,631.86 L534.77,630.07 L535.46,628.27 L536.15,626.48 L536.84,624.69 L537.53,622.90 L538.22,621.11 L538.92,619.32 L539.61,617.54 L540.31,615.75 L541.01,613.97 L541.72,612.19 L542.42,610.40 L543.13,608.62 L543.84,606.84 L544.55,605.07 L545.27,603.29 L545.98,601.51 L546.70,599.74 L547.43,597.97 L548.15,596.19 L548.88,594.42 L549.61,592.65 L550.35,590.88 L551.09,589.12 L551.83,587.35 L552.57,585.58 L553.32,583.82 L554.07,582.06 L554.83,580.29 L555.59,578.53 L556.35,576.77 L557.12,575.01 L557.89,573.25 L558.66,571.50 L559.44,569.74 L560.23,567.98 L561.01,566.23 L561.81,564.48 L562.60,562.72 L563.40,560.97 L564.21,559.22 L565.02,557.47 L565.83,555.72 L566.65,553.97 L567.48,552.23 L568.31,550.48 L569.15,548.74 L569.99,546.99 L570.83,545.25 L571.68,543.50 L572.54,541.76 L573.40,540.02 L574.27,538.28 L575.15,536.54 L576.03,534.80 L576.91,533.07 L577.80,531.33 L578.70,529.59 L579.61,527.86 L580.53,526.14 L581.46,524.42 L582.40,522.72 L583.36,521.02 L584.33,519.34 L585.33,517.68 L586.34,516.03 L587.37,514.41 L588.42,512.80 L589.50,511.22 L590.61,509.67 L591.74,508.15 L592.90,506.65 L594.09,505.19 L595.31,503.76 L596.57,502.37 L597.86,501.01 L599.18,499.70 L600.55,498.43 L601.95,497.20 L603.40,496.02 L604.88,494.89 L606.41,493.81 L607.98,492.78 L609.59,491.81 L611.25,490.89 L612.95,490.03 L614.69,489.24 L616.47,488.51 L618.30,487.85 L620.18,487.26 L622.09,486.74 L624.06,486.29 L626.07,485.92 L628.12,485.63 L630.22,485.42 L632.37,485.29" fill="none" stroke="#23237a" stroke-width="1.7" stroke-dasharray="6.3,5.7" stroke-linejoin="round"/>
<path d="M517.49,673.03 L518.16,671.20 L518.84,669.36 L519.52,667.53 L520.20,665.70 L520.87,663.87 L521.55,662.05 L522.22,660.22 L522.90,658.40 L523.58,656.57 L524.25,654.75 L524.93,652.93 L525.61,651.11 L526.29,649.30 L526.97,647.48 L527.65,645.67 L528.33,643.86 L529.01,642.04 L529.69,640.23 L530.37,638.43 L531.05,636.62 L531.74,634.81 L532.43,633.01 L533.11,631.21 L533.80,629.41 L534.49,627.61 L535.18,625.81 L535.88,624.01 L536.57,622.21 L537.27,620.42 L537.97,618.63 L538.67,616.83 L539.37,615.04 L540.08,613.25 L540.78,611.47 L541.49,609.68 L542.21,607.89 L542.92,606.11 L543.64,604.33 L544.36,602.54 L545.08,600.76 L545.80,598.98 L546.53,597.20 L547.26,595.43 L547.99,593.65 L548.73,591.87 L549.47,590.10 L550.21,588.33 L550.96,586.56 L551.71,584.78 L552.46,583.02 L553.22,581.25 L553.98,579.48 L554.74,577.71 L555.51,575.95 L556.28,574.18 L557.06,572.42 L557.84,570.66 L558.62,568.90 L559.41,567.14 L560.20,565.38 L561.00,563.62 L561.80,561.86 L562.61,560.10 L563.42,558.35 L564.23,556.59 L565.05,554.84 L565.88,553.09 L566.71,551.33 L567.54,549.58 L568.38,547.83 L569.23,546.08 L570.08,544.34 L570.93,542.59 L571.79,540.84 L572.66,539.09 L573.53,537.35 L574.41,535.60 L575.29,533.86 L576.18,532.12 L577.08,530.38 L577.98,528.64 L578.89,526.90 L579.81,525.18 L580.75,523.46 L581.70,521.75 L582.66,520.05 L583.64,518.37 L584.64,516.71 L585.66,515.07 L586.71,513.45 L587.78,511.85 L588.87,510.27 L589.99,508.73 L591.14,507.21 L592.32,505.73 L593.53,504.27 L594.77,502.86 L596.06,501.48 L597.37,500.14 L598.73,498.85 L600.13,497.59 L601.56,496.39 L603.05,495.23 L604.57,494.12 L606.14,493.07 L607.75,492.07 L609.40,491.12 L611.09,490.24 L612.83,489.42 L614.60,488.66 L616.41,487.96 L618.27,487.34 L620.16,486.78 L622.10,486.30 L624.07,485.89 L626.08,485.55 L628.13,485.30 L630.22,485.13 L632.34,485.04" fill="none" stroke="#2424a8" stroke-width="1.9" stroke-dasharray="2,5.2" stroke-linejoin="round"/>
<path d="M516.51,672.54 L517.18,670.70 L517.84,668.85 L518.51,667.01 L519.18,665.17 L519.85,663.33 L520.52,661.50 L521.20,659.66 L521.87,657.83 L522.54,656.00 L523.22,654.17 L523.89,652.34 L524.57,650.52 L525.24,648.69 L525.92,646.87 L526.60,645.05 L527.28,643.23 L527.96,641.41 L528.65,639.60 L529.33,637.78 L530.02,635.97 L530.71,634.16 L531.40,632.35 L532.09,630.54 L532.78,628.74 L533.47,626.93 L534.17,625.13 L534.87,623.32 L535.57,621.52 L536.27,619.72 L536.98,617.93 L537.69,616.13 L538.40,614.33 L539.11,612.54 L539.82,610.75 L540.54,608.96 L541.26,607.17 L541.98,605.38 L542.70,603.59 L543.43,601.80 L544.16,600.02 L544.89,598.24 L545.63,596.45 L546.37,594.67 L547.11,592.89 L547.86,591.11 L548.60,589.34 L549.36,587.56 L550.11,585.79 L550.87,584.01 L551.63,582.24 L552.40,580.47 L553.16,578.70 L553.94,576.93 L554.71,575.16 L555.49,573.39 L556.28,571.62 L557.06,569.86 L557.86,568.09 L558.65,566.33 L559.45,564.57 L560.25,562.81 L561.06,561.05 L561.87,559.29 L562.69,557.53 L563.51,555.77 L564.34,554.01 L565.17,552.26 L566.00,550.50 L566.84,548.75 L567.69,546.99 L568.53,545.24 L569.39,543.49 L570.25,541.74 L571.11,539.98 L571.98,538.23 L572.85,536.49 L573.73,534.74 L574.62,532.99 L575.50,531.24 L576.40,529.50 L577.30,527.75 L578.22,526.02 L579.14,524.29 L580.07,522.57 L581.03,520.86 L581.99,519.16 L582.98,517.48 L583.99,515.82 L585.01,514.18 L586.07,512.56 L587.15,510.97 L588.25,509.40 L589.39,507.86 L590.55,506.36 L591.75,504.88 L592.99,503.44 L594.26,502.04 L595.57,500.68 L596.92,499.36 L598.31,498.08 L599.75,496.85 L601.23,495.66 L602.76,494.53 L604.33,493.45 L605.94,492.42 L607.60,491.44 L609.30,490.53 L611.03,489.67 L612.81,488.88 L614.62,488.14 L616.46,487.47 L618.34,486.87 L620.24,486.34 L622.18,485.87 L624.15,485.48 L626.14,485.16 L628.16,484.92 L630.20,484.76 L632.26,484.67" fill="none" stroke="#2020cc" stroke-width="1.6" stroke-dasharray="5.7,2.8,2,2.8,2,2.6" stroke-linejoin="round"/>
<path d="M514.10,672.47 L514.75,670.56 L515.40,668.64 L516.04,666.73 L516.67,664.81 L517.30,662.89 L517.93,660.96 L518.55,659.04 L519.16,657.12 L519.78,655.19 L520.39,653.26 L521.00,651.34 L521.60,649.41 L522.20,647.48 L522.80,645.55 L523.40,643.62 L524.00,641.69 L524.59,639.76 L525.19,637.83 L525.78,635.89 L526.37,633.96 L526.96,632.03 L527.55,630.10 L528.14,628.17 L528.73,626.24 L529.33,624.30 L529.92,622.37 L530.51,620.44 L531.10,618.51 L531.70,616.59 L532.30,614.66 L532.90,612.73 L533.50,610.80 L534.10,608.88 L534.71,606.95 L535.32,605.03 L535.93,603.11 L536.55,601.19 L537.17,599.27 L537.79,597.35 L538.42,595.43 L539.05,593.52 L539.69,591.60 L540.33,589.69 L540.98,587.78 L541.63,585.88 L542.29,583.97 L542.95,582.07 L543.62,580.17 L544.30,578.27 L544.99,576.38 L545.68,574.48 L546.38,572.59 L547.08,570.70 L547.79,568.82 L548.52,566.94 L549.25,565.06 L549.98,563.18 L550.73,561.31 L551.49,559.44 L552.25,557.57 L553.03,555.71 L553.81,553.85 L554.60,551.99 L555.41,550.14 L556.22,548.29 L557.05,546.45 L557.89,544.61 L558.73,542.77 L559.59,540.94 L560.47,539.11 L561.35,537.29 L562.24,535.47 L563.15,533.65 L564.07,531.84 L565.01,530.03 L565.95,528.23 L566.91,526.44 L567.89,524.64 L568.88,522.86 L569.88,521.08 L570.90,519.30 L571.93,517.54 L572.99,515.80 L574.07,514.06 L575.16,512.35 L576.29,510.66 L577.43,508.99 L578.60,507.35 L579.80,505.73 L581.03,504.15 L582.29,502.60 L583.58,501.09 L584.90,499.61 L586.26,498.18 L587.65,496.79 L589.08,495.44 L590.55,494.15 L592.06,492.90 L593.61,491.71 L595.20,490.58 L596.84,489.50 L598.53,488.48 L600.26,487.53 L602.04,486.64 L603.86,485.82 L605.73,485.06 L607.63,484.37 L609.57,483.75 L611.55,483.19 L613.55,482.69 L615.58,482.26 L617.63,481.89 L619.70,481.58 L621.78,481.34 L623.88,481.16 L625.99,481.04 L628.10,480.99 L630.22,481.00 L632.34,481.07" fill="none" stroke="#1414ff" stroke-width="1.9" stroke-dasharray="7.2,2.8,2.2,2.8" stroke-linejoin="round"/>
<path d="M503.72,653.37 L504.26,651.40 L504.81,649.43 L505.37,647.46 L505.95,645.51 L506.54,643.56 L507.15,641.62 L507.76,639.68 L508.39,637.75 L509.02,635.83 L509.67,633.90 L510.32,631.99 L510.99,630.07 L511.65,628.16 L512.33,626.25 L513.01,624.35 L513.69,622.45 L514.37,620.54 L515.06,618.65 L515.75,616.75 L516.44,614.85 L517.13,612.95 L517.82,611.05 L518.51,609.15 L519.20,607.25 L519.88,605.35 L520.56,603.45 L521.23,601.55 L521.90,599.64 L522.55,597.73 L523.21,595.81 L523.85,593.90 L524.49,591.98 L525.11,590.05 L525.72,588.12 L526.33,586.18 L526.92,584.24 L527.50,582.30 L528.08,580.35 L528.65,578.40 L529.21,576.45 L529.77,574.49 L530.33,572.54 L530.89,570.58 L531.44,568.62 L532.00,566.66 L532.56,564.70 L533.12,562.74 L533.69,560.78 L534.26,558.83 L534.84,556.87 L535.42,554.92 L536.02,552.97 L536.62,551.02 L537.24,549.08 L537.87,547.15 L538.51,545.21 L539.17,543.29 L539.85,541.36 L540.54,539.45 L541.25,537.54 L541.98,535.64 L542.73,533.74 L543.50,531.86 L544.30,529.98 L545.12,528.11 L545.97,526.25 L546.84,524.41 L547.74,522.57 L548.66,520.76 L549.62,518.96 L550.60,517.17 L551.61,515.41 L552.65,513.67 L553.72,511.95 L554.82,510.26 L555.95,508.59 L557.11,506.96 L558.30,505.35 L559.53,503.77 L560.79,502.23 L562.08,500.72 L563.41,499.25 L564.77,497.81 L566.16,496.42 L567.60,495.07 L569.07,493.76 L570.58,492.49 L572.12,491.27 L573.70,490.10 L575.32,488.98 L576.99,487.91 L578.69,486.89 L580.43,485.93 L582.21,485.02 L584.03,484.16 L585.88,483.36 L587.77,482.60 L589.68,481.90 L591.62,481.24 L593.59,480.62 L595.57,480.04 L597.58,479.51 L599.60,479.01 L601.64,478.55 L603.69,478.13 L605.74,477.74 L607.80,477.38 L609.87,477.05 L611.93,476.74 L613.99,476.47 L616.05,476.22 L618.10,475.99 L620.15,475.78 L622.17,475.59 L624.19,475.41 L626.18,475.26 L628.16,475.11 L630.11,474.98 L632.04,474.86" fill="none" stroke="#6b6bff" stroke-width="1.3" stroke-dasharray="3.3,2.2" stroke-linejoin="round"/>
<path d="M505.60,665.30 L505.76,665.33 L505.92,665.36 L506.07,665.39 L506.23,665.43 L506.39,665.47 L506.55,665.50 L506.70,665.54 L506.86,665.58 L507.01,665.63 L507.17,665.67 L507.32,665.72 L507.48,665.77 L507.63,665.81 L507.78,665.87 L507.94,665.92 L508.09,665.97 L508.24,666.03 L508.39,666.08 L508.54,666.14 L508.69,666.20 L508.84,666.26 L508.99,666.33 L509.14,666.39 L509.29,666.46 L509.43,666.52 L509.58,666.59 L509.73,666.66 L509.87,666.73 L510.01,666.80 L510.16,666.88 L510.30,666.95 L510.44,667.03 L510.58,667.11 L510.72,667.19 L510.86,667.27 L511.00,667.35 L511.14,667.44 L511.28,667.52 L511.42,667.61 L511.55,667.70 L511.69,667.79 L511.82,667.88 L511.95,667.97 L512.08,668.06 L512.22,668.15 L512.35,668.25 L512.48,668.35 L512.60,668.44 L512.73,668.54 L512.86,668.64 L512.98,668.75 L513.11,668.85 L513.23,668.95 L513.35,669.06 L513.47,669.16 L513.59,669.27 L513.71,669.38 L513.83,669.49 L513.95,669.60 L514.06,669.71 L514.18,669.83 L514.29,669.94 L514.40,670.06 L514.52,670.17 L514.63,670.29 L514.73,670.41 L514.84,670.53 L514.95,670.65 L515.05,670.77 L515.16,670.89 L515.26,671.02 L515.36,671.14 L515.46,671.27 L515.56,671.39 L515.66,671.52 L515.75,671.65 L515.85,671.78 L515.94,671.91 L516.03,672.04 L516.12,672.18 L516.21,672.31 L516.30,672.45 L516.38,672.58 L516.47,672.72 L516.55,672.85 L516.63,672.99 L516.71,673.13 L516.79,673.27 L516.87,673.41 L516.94,673.56 L517.02,673.70 L517.09,673.84 L517.16,673.99 L517.23,674.13 L517.30,674.28 L517.36,674.42 L517.43,674.57 L517.49,674.72 L517.55,674.87 L517.61,675.02 L517.67,675.17 L517.72,675.32 L517.78,675.47 L517.83,675.63 L517.88,675.78 L517.93,675.93 L517.98,676.09 L518.02,676.24 L518.07,676.40 L518.11,676.56 L518.15,676.72 L518.19,676.87 L518.22,677.03 L518.26,677.19 L518.29,677.35 L518.32,677.51 L518.35,677.68 L518.38,677.84 L518.40,678.00" fill="none" stroke="#111" stroke-width="1.6" stroke-linejoin="round"/>
<line x1="373.8" y1="471.6" x2="373.8" y2="678.6" stroke="#000" stroke-width="1.3"/>
<line x1="632.3" y1="471.6" x2="632.3" y2="678.6" stroke="#000" stroke-width="1.3"/>
<line x1="373.15000000000003" y1="471.6" x2="499.85" y2="471.6" stroke="#000" stroke-width="1.3"/>
<line x1="505.75" y1="471.6" x2="632.9499999999999" y2="471.6" stroke="#000" stroke-width="1.3"/>
<line x1="498.15000000000003" y1="476.40000000000003" x2="502.95" y2="466.8" stroke="#000" stroke-width="1.2"/>
<line x1="502.65000000000003" y1="476.40000000000003" x2="507.45" y2="466.8" stroke="#000" stroke-width="1.2"/>
<line x1="373.15000000000003" y1="678.6" x2="499.85" y2="678.6" stroke="#000" stroke-width="1.3"/>
<line x1="505.75" y1="678.6" x2="632.9499999999999" y2="678.6" stroke="#000" stroke-width="1.3"/>
<line x1="498.15000000000003" y1="683.4" x2="502.95" y2="673.8000000000001" stroke="#000" stroke-width="1.2"/>
<line x1="502.65000000000003" y1="683.4" x2="507.45" y2="673.8000000000001" stroke="#000" stroke-width="1.2"/>
<line x1="373.8" y1="678.60" x2="378.6" y2="678.60" stroke="#000" stroke-width="0.9"/>
<line x1="632.3" y1="678.60" x2="627.5" y2="678.60" stroke="#000" stroke-width="0.9"/>
<line x1="373.8" y1="671.68" x2="376.6" y2="671.68" stroke="#000" stroke-width="0.9"/>
<line x1="632.3" y1="671.68" x2="629.5" y2="671.68" stroke="#000" stroke-width="0.9"/>
<line x1="373.8" y1="667.63" x2="376.6" y2="667.63" stroke="#000" stroke-width="0.9"/>
<line x1="632.3" y1="667.63" x2="629.5" y2="667.63" stroke="#000" stroke-width="0.9"/>
<line x1="373.8" y1="664.75" x2="376.6" y2="664.75" stroke="#000" stroke-width="0.9"/>
<line x1="632.3" y1="664.75" x2="629.5" y2="664.75" stroke="#000" stroke-width="0.9"/>
<line x1="373.8" y1="662.52" x2="376.6" y2="662.52" stroke="#000" stroke-width="0.9"/>
<line x1="632.3" y1="662.52" x2="629.5" y2="662.52" stroke="#000" stroke-width="0.9"/>
<line x1="373.8" y1="660.70" x2="376.6" y2="660.70" stroke="#000" stroke-width="0.9"/>
<line x1="632.3" y1="660.70" x2="629.5" y2="660.70" stroke="#000" stroke-width="0.9"/>
<line x1="373.8" y1="659.16" x2="376.6" y2="659.16" stroke="#000" stroke-width="0.9"/>
<line x1="632.3" y1="659.16" x2="629.5" y2="659.16" stroke="#000" stroke-width="0.9"/>
<line x1="373.8" y1="657.83" x2="376.6" y2="657.83" stroke="#000" stroke-width="0.9"/>
<line x1="632.3" y1="657.83" x2="629.5" y2="657.83" stroke="#000" stroke-width="0.9"/>
<line x1="373.8" y1="656.65" x2="376.6" y2="656.65" stroke="#000" stroke-width="0.9"/>
<line x1="632.3" y1="656.65" x2="629.5" y2="656.65" stroke="#000" stroke-width="0.9"/>
<line x1="373.8" y1="655.60" x2="378.6" y2="655.60" stroke="#000" stroke-width="0.9"/>
<line x1="632.3" y1="655.60" x2="627.5" y2="655.60" stroke="#000" stroke-width="0.9"/>
<line x1="373.8" y1="648.68" x2="376.6" y2="648.68" stroke="#000" stroke-width="0.9"/>
<line x1="632.3" y1="648.68" x2="629.5" y2="648.68" stroke="#000" stroke-width="0.9"/>
<line x1="373.8" y1="644.63" x2="376.6" y2="644.63" stroke="#000" stroke-width="0.9"/>
<line x1="632.3" y1="644.63" x2="629.5" y2="644.63" stroke="#000" stroke-width="0.9"/>
<line x1="373.8" y1="641.75" x2="376.6" y2="641.75" stroke="#000" stroke-width="0.9"/>
<line x1="632.3" y1="641.75" x2="629.5" y2="641.75" stroke="#000" stroke-width="0.9"/>
<line x1="373.8" y1="639.52" x2="376.6" y2="639.52" stroke="#000" stroke-width="0.9"/>
<line x1="632.3" y1="639.52" x2="629.5" y2="639.52" stroke="#000" stroke-width="0.9"/>
<line x1="373.8" y1="637.70" x2="376.6" y2="637.70" stroke="#000" stroke-width="0.9"/>
<line x1="632.3" y1="637.70" x2="629.5" y2="637.70" stroke="#000" stroke-width="0.9"/>
<line x1="373.8" y1="636.16" x2="376.6" y2="636.16" stroke="#000" stroke-width="0.9"/>
<line x1="632.3" y1="636.16" x2="629.5" y2="636.16" stroke="#000" stroke-width="0.9"/>
<line x1="373.8" y1="634.83" x2="376.6" y2="634.83" stroke="#000" stroke-width="0.9"/>
<line x1="632.3" y1="634.83" x2="629.5" y2="634.83" stroke="#000" stroke-width="0.9"/>
<line x1="373.8" y1="633.65" x2="376.6" y2="633.65" stroke="#000" stroke-width="0.9"/>
<line x1="632.3" y1="633.65" x2="629.5" y2="633.65" stroke="#000" stroke-width="0.9"/>
<line x1="373.8" y1="632.60" x2="378.6" y2="632.60" stroke="#000" stroke-width="0.9"/>
<line x1="632.3" y1="632.60" x2="627.5" y2="632.60" stroke="#000" stroke-width="0.9"/>
<line x1="373.8" y1="625.68" x2="376.6" y2="625.68" stroke="#000" stroke-width="0.9"/>
<line x1="632.3" y1="625.68" x2="629.5" y2="625.68" stroke="#000" stroke-width="0.9"/>
<line x1="373.8" y1="621.63" x2="376.6" y2="621.63" stroke="#000" stroke-width="0.9"/>
<line x1="632.3" y1="621.63" x2="629.5" y2="621.63" stroke="#000" stroke-width="0.9"/>
<line x1="373.8" y1="618.75" x2="376.6" y2="618.75" stroke="#000" stroke-width="0.9"/>
<line x1="632.3" y1="618.75" x2="629.5" y2="618.75" stroke="#000" stroke-width="0.9"/>
<line x1="373.8" y1="616.52" x2="376.6" y2="616.52" stroke="#000" stroke-width="0.9"/>
<line x1="632.3" y1="616.52" x2="629.5" y2="616.52" stroke="#000" stroke-width="0.9"/>
<line x1="373.8" y1="614.70" x2="376.6" y2="614.70" stroke="#000" stroke-width="0.9"/>
<line x1="632.3" y1="614.70" x2="629.5" y2="614.70" stroke="#000" stroke-width="0.9"/>
<line x1="373.8" y1="613.16" x2="376.6" y2="613.16" stroke="#000" stroke-width="0.9"/>
<line x1="632.3" y1="613.16" x2="629.5" y2="613.16" stroke="#000" stroke-width="0.9"/>
<line x1="373.8" y1="611.83" x2="376.6" y2="611.83" stroke="#000" stroke-width="0.9"/>
<line x1="632.3" y1="611.83" x2="629.5" y2="611.83" stroke="#000" stroke-width="0.9"/>
<line x1="373.8" y1="610.65" x2="376.6" y2="610.65" stroke="#000" stroke-width="0.9"/>
<line x1="632.3" y1="610.65" x2="629.5" y2="610.65" stroke="#000" stroke-width="0.9"/>
<line x1="373.8" y1="609.60" x2="378.6" y2="609.60" stroke="#000" stroke-width="0.9"/>
<line x1="632.3" y1="609.60" x2="627.5" y2="609.60" stroke="#000" stroke-width="0.9"/>
<line x1="373.8" y1="602.68" x2="376.6" y2="602.68" stroke="#000" stroke-width="0.9"/>
<line x1="632.3" y1="602.68" x2="629.5" y2="602.68" stroke="#000" stroke-width="0.9"/>
<line x1="373.8" y1="598.63" x2="376.6" y2="598.63" stroke="#000" stroke-width="0.9"/>
<line x1="632.3" y1="598.63" x2="629.5" y2="598.63" stroke="#000" stroke-width="0.9"/>
<line x1="373.8" y1="595.75" x2="376.6" y2="595.75" stroke="#000" stroke-width="0.9"/>
<line x1="632.3" y1="595.75" x2="629.5" y2="595.75" stroke="#000" stroke-width="0.9"/>
<line x1="373.8" y1="593.52" x2="376.6" y2="593.52" stroke="#000" stroke-width="0.9"/>
<line x1="632.3" y1="593.52" x2="629.5" y2="593.52" stroke="#000" stroke-width="0.9"/>
<line x1="373.8" y1="591.70" x2="376.6" y2="591.70" stroke="#000" stroke-width="0.9"/>
<line x1="632.3" y1="591.70" x2="629.5" y2="591.70" stroke="#000" stroke-width="0.9"/>
<line x1="373.8" y1="590.16" x2="376.6" y2="590.16" stroke="#000" stroke-width="0.9"/>
<line x1="632.3" y1="590.16" x2="629.5" y2="590.16" stroke="#000" stroke-width="0.9"/>
<line x1="373.8" y1="588.83" x2="376.6" y2="588.83" stroke="#000" stroke-width="0.9"/>
<line x1="632.3" y1="588.83" x2="629.5" y2="588.83" stroke="#000" stroke-width="0.9"/>
<line x1="373.8" y1="587.65" x2="376.6" y2="587.65" stroke="#000" stroke-width="0.9"/>
<line x1="632.3" y1="587.65" x2="629.5" y2="587.65" stroke="#000" stroke-width="0.9"/>
<line x1="373.8" y1="586.60" x2="378.6" y2="586.60" stroke="#000" stroke-width="0.9"/>
<line x1="632.3" y1="586.60" x2="627.5" y2="586.60" stroke="#000" stroke-width="0.9"/>
<line x1="373.8" y1="579.68" x2="376.6" y2="579.68" stroke="#000" stroke-width="0.9"/>
<line x1="632.3" y1="579.68" x2="629.5" y2="579.68" stroke="#000" stroke-width="0.9"/>
<line x1="373.8" y1="575.63" x2="376.6" y2="575.63" stroke="#000" stroke-width="0.9"/>
<line x1="632.3" y1="575.63" x2="629.5" y2="575.63" stroke="#000" stroke-width="0.9"/>
<line x1="373.8" y1="572.75" x2="376.6" y2="572.75" stroke="#000" stroke-width="0.9"/>
<line x1="632.3" y1="572.75" x2="629.5" y2="572.75" stroke="#000" stroke-width="0.9"/>
<line x1="373.8" y1="570.52" x2="376.6" y2="570.52" stroke="#000" stroke-width="0.9"/>
<line x1="632.3" y1="570.52" x2="629.5" y2="570.52" stroke="#000" stroke-width="0.9"/>
<line x1="373.8" y1="568.70" x2="376.6" y2="568.70" stroke="#000" stroke-width="0.9"/>
<line x1="632.3" y1="568.70" x2="629.5" y2="568.70" stroke="#000" stroke-width="0.9"/>
<line x1="373.8" y1="567.16" x2="376.6" y2="567.16" stroke="#000" stroke-width="0.9"/>
<line x1="632.3" y1="567.16" x2="629.5" y2="567.16" stroke="#000" stroke-width="0.9"/>
<line x1="373.8" y1="565.83" x2="376.6" y2="565.83" stroke="#000" stroke-width="0.9"/>
<line x1="632.3" y1="565.83" x2="629.5" y2="565.83" stroke="#000" stroke-width="0.9"/>
<line x1="373.8" y1="564.65" x2="376.6" y2="564.65" stroke="#000" stroke-width="0.9"/>
<line x1="632.3" y1="564.65" x2="629.5" y2="564.65" stroke="#000" stroke-width="0.9"/>
<line x1="373.8" y1="563.60" x2="378.6" y2="563.60" stroke="#000" stroke-width="0.9"/>
<line x1="632.3" y1="563.60" x2="627.5" y2="563.60" stroke="#000" stroke-width="0.9"/>
<line x1="373.8" y1="556.68" x2="376.6" y2="556.68" stroke="#000" stroke-width="0.9"/>
<line x1="632.3" y1="556.68" x2="629.5" y2="556.68" stroke="#000" stroke-width="0.9"/>
<line x1="373.8" y1="552.63" x2="376.6" y2="552.63" stroke="#000" stroke-width="0.9"/>
<line x1="632.3" y1="552.63" x2="629.5" y2="552.63" stroke="#000" stroke-width="0.9"/>
<line x1="373.8" y1="549.75" x2="376.6" y2="549.75" stroke="#000" stroke-width="0.9"/>
<line x1="632.3" y1="549.75" x2="629.5" y2="549.75" stroke="#000" stroke-width="0.9"/>
<line x1="373.8" y1="547.52" x2="376.6" y2="547.52" stroke="#000" stroke-width="0.9"/>
<line x1="632.3" y1="547.52" x2="629.5" y2="547.52" stroke="#000" stroke-width="0.9"/>
<line x1="373.8" y1="545.70" x2="376.6" y2="545.70" stroke="#000" stroke-width="0.9"/>
<line x1="632.3" y1="545.70" x2="629.5" y2="545.70" stroke="#000" stroke-width="0.9"/>
<line x1="373.8" y1="544.16" x2="376.6" y2="544.16" stroke="#000" stroke-width="0.9"/>
<line x1="632.3" y1="544.16" x2="629.5" y2="544.16" stroke="#000" stroke-width="0.9"/>
<line x1="373.8" y1="542.83" x2="376.6" y2="542.83" stroke="#000" stroke-width="0.9"/>
<line x1="632.3" y1="542.83" x2="629.5" y2="542.83" stroke="#000" stroke-width="0.9"/>
<line x1="373.8" y1="541.65" x2="376.6" y2="541.65" stroke="#000" stroke-width="0.9"/>
<line x1="632.3" y1="541.65" x2="629.5" y2="541.65" stroke="#000" stroke-width="0.9"/>
<line x1="373.8" y1="540.60" x2="378.6" y2="540.60" stroke="#000" stroke-width="0.9"/>
<line x1="632.3" y1="540.60" x2="627.5" y2="540.60" stroke="#000" stroke-width="0.9"/>
<line x1="373.8" y1="533.68" x2="376.6" y2="533.68" stroke="#000" stroke-width="0.9"/>
<line x1="632.3" y1="533.68" x2="629.5" y2="533.68" stroke="#000" stroke-width="0.9"/>
<line x1="373.8" y1="529.63" x2="376.6" y2="529.63" stroke="#000" stroke-width="0.9"/>
<line x1="632.3" y1="529.63" x2="629.5" y2="529.63" stroke="#000" stroke-width="0.9"/>
<line x1="373.8" y1="526.75" x2="376.6" y2="526.75" stroke="#000" stroke-width="0.9"/>
<line x1="632.3" y1="526.75" x2="629.5" y2="526.75" stroke="#000" stroke-width="0.9"/>
<line x1="373.8" y1="524.52" x2="376.6" y2="524.52" stroke="#000" stroke-width="0.9"/>
<line x1="632.3" y1="524.52" x2="629.5" y2="524.52" stroke="#000" stroke-width="0.9"/>
<line x1="373.8" y1="522.70" x2="376.6" y2="522.70" stroke="#000" stroke-width="0.9"/>
<line x1="632.3" y1="522.70" x2="629.5" y2="522.70" stroke="#000" stroke-width="0.9"/>
<line x1="373.8" y1="521.16" x2="376.6" y2="521.16" stroke="#000" stroke-width="0.9"/>
<line x1="632.3" y1="521.16" x2="629.5" y2="521.16" stroke="#000" stroke-width="0.9"/>
<line x1="373.8" y1="519.83" x2="376.6" y2="519.83" stroke="#000" stroke-width="0.9"/>
<line x1="632.3" y1="519.83" x2="629.5" y2="519.83" stroke="#000" stroke-width="0.9"/>
<line x1="373.8" y1="518.65" x2="376.6" y2="518.65" stroke="#000" stroke-width="0.9"/>
<line x1="632.3" y1="518.65" x2="629.5" y2="518.65" stroke="#000" stroke-width="0.9"/>
<line x1="373.8" y1="517.60" x2="378.6" y2="517.60" stroke="#000" stroke-width="0.9"/>
<line x1="632.3" y1="517.60" x2="627.5" y2="517.60" stroke="#000" stroke-width="0.9"/>
<line x1="373.8" y1="510.68" x2="376.6" y2="510.68" stroke="#000" stroke-width="0.9"/>
<line x1="632.3" y1="510.68" x2="629.5" y2="510.68" stroke="#000" stroke-width="0.9"/>
<line x1="373.8" y1="506.63" x2="376.6" y2="506.63" stroke="#000" stroke-width="0.9"/>
<line x1="632.3" y1="506.63" x2="629.5" y2="506.63" stroke="#000" stroke-width="0.9"/>
<line x1="373.8" y1="503.75" x2="376.6" y2="503.75" stroke="#000" stroke-width="0.9"/>
<line x1="632.3" y1="503.75" x2="629.5" y2="503.75" stroke="#000" stroke-width="0.9"/>
<line x1="373.8" y1="501.52" x2="376.6" y2="501.52" stroke="#000" stroke-width="0.9"/>
<line x1="632.3" y1="501.52" x2="629.5" y2="501.52" stroke="#000" stroke-width="0.9"/>
<line x1="373.8" y1="499.70" x2="376.6" y2="499.70" stroke="#000" stroke-width="0.9"/>
<line x1="632.3" y1="499.70" x2="629.5" y2="499.70" stroke="#000" stroke-width="0.9"/>
<line x1="373.8" y1="498.16" x2="376.6" y2="498.16" stroke="#000" stroke-width="0.9"/>
<line x1="632.3" y1="498.16" x2="629.5" y2="498.16" stroke="#000" stroke-width="0.9"/>
<line x1="373.8" y1="496.83" x2="376.6" y2="496.83" stroke="#000" stroke-width="0.9"/>
<line x1="632.3" y1="496.83" x2="629.5" y2="496.83" stroke="#000" stroke-width="0.9"/>
<line x1="373.8" y1="495.65" x2="376.6" y2="495.65" stroke="#000" stroke-width="0.9"/>
<line x1="632.3" y1="495.65" x2="629.5" y2="495.65" stroke="#000" stroke-width="0.9"/>
<line x1="373.8" y1="494.60" x2="378.6" y2="494.60" stroke="#000" stroke-width="0.9"/>
<line x1="632.3" y1="494.60" x2="627.5" y2="494.60" stroke="#000" stroke-width="0.9"/>
<line x1="373.8" y1="487.68" x2="376.6" y2="487.68" stroke="#000" stroke-width="0.9"/>
<line x1="632.3" y1="487.68" x2="629.5" y2="487.68" stroke="#000" stroke-width="0.9"/>
<line x1="373.8" y1="483.63" x2="376.6" y2="483.63" stroke="#000" stroke-width="0.9"/>
<line x1="632.3" y1="483.63" x2="629.5" y2="483.63" stroke="#000" stroke-width="0.9"/>
<line x1="373.8" y1="480.75" x2="376.6" y2="480.75" stroke="#000" stroke-width="0.9"/>
<line x1="632.3" y1="480.75" x2="629.5" y2="480.75" stroke="#000" stroke-width="0.9"/>
<line x1="373.8" y1="478.52" x2="376.6" y2="478.52" stroke="#000" stroke-width="0.9"/>
<line x1="632.3" y1="478.52" x2="629.5" y2="478.52" stroke="#000" stroke-width="0.9"/>
<line x1="373.8" y1="476.70" x2="376.6" y2="476.70" stroke="#000" stroke-width="0.9"/>
<line x1="632.3" y1="476.70" x2="629.5" y2="476.70" stroke="#000" stroke-width="0.9"/>
<line x1="373.8" y1="475.16" x2="376.6" y2="475.16" stroke="#000" stroke-width="0.9"/>
<line x1="632.3" y1="475.16" x2="629.5" y2="475.16" stroke="#000" stroke-width="0.9"/>
<line x1="373.8" y1="473.83" x2="376.6" y2="473.83" stroke="#000" stroke-width="0.9"/>
<line x1="632.3" y1="473.83" x2="629.5" y2="473.83" stroke="#000" stroke-width="0.9"/>
<line x1="373.8" y1="472.65" x2="376.6" y2="472.65" stroke="#000" stroke-width="0.9"/>
<line x1="632.3" y1="472.65" x2="629.5" y2="472.65" stroke="#000" stroke-width="0.9"/>
<line x1="373.8" y1="471.60" x2="378.6" y2="471.60" stroke="#000" stroke-width="0.9"/>
<line x1="632.3" y1="471.60" x2="627.5" y2="471.60" stroke="#000" stroke-width="0.9"/>
<line x1="406.11" y1="678.6" x2="406.11" y2="675.8000000000001" stroke="#000" stroke-width="0.9"/>
<line x1="406.11" y1="471.6" x2="406.11" y2="474.40000000000003" stroke="#000" stroke-width="0.9"/>
<line x1="438.43" y1="678.6" x2="438.43" y2="673.8000000000001" stroke="#000" stroke-width="0.9"/>
<line x1="438.43" y1="471.6" x2="438.43" y2="476.40000000000003" stroke="#000" stroke-width="0.9"/>
<line x1="470.74" y1="678.6" x2="470.74" y2="675.8000000000001" stroke="#000" stroke-width="0.9"/>
<line x1="470.74" y1="471.6" x2="470.74" y2="474.40000000000003" stroke="#000" stroke-width="0.9"/>
<line x1="535.36" y1="678.6" x2="535.36" y2="675.8000000000001" stroke="#000" stroke-width="0.9"/>
<line x1="535.36" y1="471.6" x2="535.36" y2="474.40000000000003" stroke="#000" stroke-width="0.9"/>
<line x1="567.67" y1="678.6" x2="567.67" y2="673.8000000000001" stroke="#000" stroke-width="0.9"/>
<line x1="567.67" y1="471.6" x2="567.67" y2="476.40000000000003" stroke="#000" stroke-width="0.9"/>
<line x1="599.99" y1="678.6" x2="599.99" y2="675.8000000000001" stroke="#000" stroke-width="0.9"/>
<line x1="599.99" y1="471.6" x2="599.99" y2="474.40000000000003" stroke="#000" stroke-width="0.9"/>
<text x="369.40000000000003" y="499.8" font-family='"Liberation Sans", Arial, sans-serif' font-size="14.5" text-anchor="end">10<tspan font-size="8.2" dy="-8.6">-3</tspan></text>
<text x="369.40000000000003" y="545.8" font-family='"Liberation Sans", Arial, sans-serif' font-size="14.5" text-anchor="end">10<tspan font-size="8.2" dy="-8.6">-5</tspan></text>
<text x="369.40000000000003" y="591.8" font-family='"Liberation Sans", Arial, sans-serif' font-size="14.5" text-anchor="end">10<tspan font-size="8.2" dy="-8.6">-7</tspan></text>
<text x="369.40000000000003" y="637.8" font-family='"Liberation Sans", Arial, sans-serif' font-size="14.5" text-anchor="end">10<tspan font-size="8.2" dy="-8.6">-9</tspan></text>
<text x="369.40000000000003" y="683.8" font-family='"Liberation Sans", Arial, sans-serif' font-size="14.5" text-anchor="end">10<tspan font-size="8.2" dy="-8.6">-11</tspan></text>
<text x="373.8" y="694.3" font-family='"Liberation Sans", Arial, sans-serif' font-size="14" text-anchor="middle">-2</text>
<text x="438.4" y="694.3" font-family='"Liberation Sans", Arial, sans-serif' font-size="14" text-anchor="middle">-1</text>
<text x="567.7" y="694.3" font-family='"Liberation Sans", Arial, sans-serif' font-size="14" text-anchor="middle">1</text>
<text x="632.3" y="694.3" font-family='"Liberation Sans", Arial, sans-serif' font-size="14" text-anchor="middle">2</text>
<text x="504.3" y="712.5" font-family='"Liberation Serif", "Times New Roman", serif' font-size="18" text-anchor="middle">Voltage (V)</text>
<text transform="translate(338.2,587) rotate(-90)" font-family='"Liberation Serif", "Times New Roman", serif' font-size="18" text-anchor="middle">Current (A)</text>
<text x="56.8" y="499.3" font-family='"Liberation Serif", "Times New Roman", serif' font-size="23">(a)</text>
<text x="380.2" y="499.3" font-family='"Liberation Serif", "Times New Roman", serif' font-size="23">(b)</text>
<g font-family='"Liberation Serif", "Times New Roman", serif' font-size="13.6" fill="#000">
<text x="105.6" y="497.6">V<tspan font-size="8.8">A</tspan> = 0.6 V, <tspan fill="#ff1a1a">T = 300 K</tspan></text>
<text x="105.6" y="514.8">H<tspan font-size="8.8">2</tspan> Content in Air</text>
<line x1="104.4" y1="526.8" x2="136.1" y2="526.8" stroke="#ff5a5a" stroke-width="1.3" stroke-dasharray="3.3,2.2"/>
<text x="174.1" y="531.1" text-anchor="end">1%</text>
<line x1="104.4" y1="543.4" x2="136.1" y2="543.4" stroke="#f00000" stroke-width="1.9" stroke-dasharray="7.2,2.8,2.2,2.8"/>
<text x="189.8" y="547.7" text-anchor="end">1000 ppm</text>
<line x1="104.4" y1="560.0" x2="136.1" y2="560.0" stroke="#a0505a" stroke-width="1.6" stroke-dasharray="5.7,2.8,2,2.8,2,2.6"/>
<text x="189.8" y="564.3" text-anchor="end">100 ppm</text>
<line x1="104.4" y1="576.6" x2="136.1" y2="576.6" stroke="#8b1a22" stroke-width="1.9" stroke-dasharray="2,5.2"/>
<text x="189.8" y="580.9" text-anchor="end">50 ppm</text>
<line x1="104.4" y1="593.2" x2="136.1" y2="593.2" stroke="#650a12" stroke-width="1.7" stroke-dasharray="6.3,5.7"/>
<text x="189.8" y="597.5" text-anchor="end">1 ppm</text>
<line x1="104.4" y1="609.8" x2="136.1" y2="609.8" stroke="#111" stroke-width="1.7"/>
<text x="140.1" y="614.1">Air</text>
</g>
<g font-family='"Liberation Serif", "Times New Roman", serif' font-size="13.6" fill="#000">
<text x="433.6" y="491.8">V<tspan font-size="8.8">A</tspan> = 0.6 V, <tspan fill="#1a1aff">T = 373 K</tspan></text>
<text x="433.6" y="509.0">H<tspan font-size="8.8">2</tspan> Content in Air</text>
<line x1="432.4" y1="521.0" x2="464.1" y2="521.0" stroke="#6b6bff" stroke-width="1.3" stroke-dasharray="3.3,2.2"/>
<text x="502.1" y="525.3" text-anchor="end">1%</text>
<line x1="432.4" y1="537.6" x2="464.1" y2="537.6" stroke="#1414ff" stroke-width="1.9" stroke-dasharray="7.2,2.8,2.2,2.8"/>
<text x="517.8" y="541.9" text-anchor="end">1000 ppm</text>
<line x1="432.4" y1="554.2" x2="464.1" y2="554.2" stroke="#2020cc" stroke-width="1.6" stroke-dasharray="5.7,2.8,2,2.8,2,2.6"/>
<text x="517.8" y="558.5" text-anchor="end">100 ppm</text>
<line x1="432.4" y1="570.8" x2="464.1" y2="570.8" stroke="#2424a8" stroke-width="1.9" stroke-dasharray="2,5.2"/>
<text x="517.8" y="575.1" text-anchor="end">50 ppm</text>
<line x1="432.4" y1="587.4" x2="464.1" y2="587.4" stroke="#23237a" stroke-width="1.7" stroke-dasharray="6.3,5.7"/>
<text x="517.8" y="591.7" text-anchor="end">1 ppm</text>
<line x1="432.4" y1="604.0" x2="464.1" y2="604.0" stroke="#111" stroke-width="1.7"/>
<text x="468.1" y="608.3">Air</text>
</g>
</svg></body></html>
